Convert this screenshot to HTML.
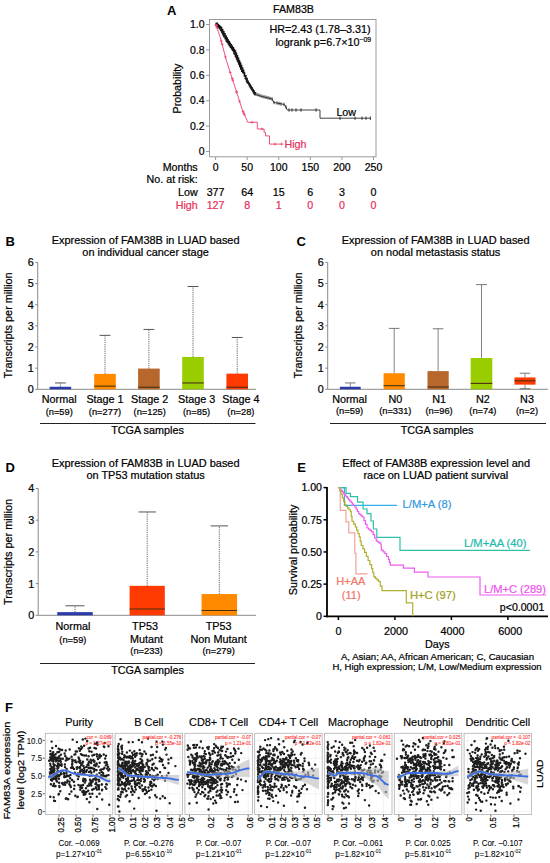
<!DOCTYPE html>
<html><head><meta charset="utf-8"><style>html,body{margin:0;padding:0;background:#fff;width:550px;height:863px;overflow:hidden}svg{display:block}text{font-family:"Liberation Sans",sans-serif}</style></head>
<body><svg width="550" height="863" viewBox="0 0 550 863">
<text x="167.00" y="14.70" font-size="13" text-anchor="start" fill="#000" font-weight="bold" >A</text>
<text x="293.50" y="13.00" font-size="10.7" text-anchor="middle" fill="#000" stroke="#000" stroke-width="0.22" >FAM83B</text>
<rect x="209.5" y="19.5" width="166.5" height="137.3" fill="none" stroke="#9a9a9a" stroke-width="1"/>
<line x1="206.00" y1="151.50" x2="209.50" y2="151.50" stroke="#9a9a9a" stroke-width="1" />
<text x="204.50" y="155.20" font-size="10.5" text-anchor="end" fill="#000" stroke="#000" stroke-width="0.22" >0</text>
<line x1="206.00" y1="126.10" x2="209.50" y2="126.10" stroke="#9a9a9a" stroke-width="1" />
<text x="204.50" y="129.80" font-size="10.5" text-anchor="end" fill="#000" stroke="#000" stroke-width="0.22" >0.2</text>
<line x1="206.00" y1="100.70" x2="209.50" y2="100.70" stroke="#9a9a9a" stroke-width="1" />
<text x="204.50" y="104.40" font-size="10.5" text-anchor="end" fill="#000" stroke="#000" stroke-width="0.22" >0.4</text>
<line x1="206.00" y1="75.30" x2="209.50" y2="75.30" stroke="#9a9a9a" stroke-width="1" />
<text x="204.50" y="79.00" font-size="10.5" text-anchor="end" fill="#000" stroke="#000" stroke-width="0.22" >0.6</text>
<line x1="206.00" y1="49.90" x2="209.50" y2="49.90" stroke="#9a9a9a" stroke-width="1" />
<text x="204.50" y="53.60" font-size="10.5" text-anchor="end" fill="#000" stroke="#000" stroke-width="0.22" >0.8</text>
<line x1="206.00" y1="24.50" x2="209.50" y2="24.50" stroke="#9a9a9a" stroke-width="1" />
<text x="204.50" y="28.20" font-size="10.5" text-anchor="end" fill="#000" stroke="#000" stroke-width="0.22" >1.0</text>
<line x1="215.60" y1="156.80" x2="215.60" y2="160.00" stroke="#9a9a9a" stroke-width="1" />
<text x="215.60" y="170.60" font-size="10.5" text-anchor="middle" fill="#000" stroke="#000" stroke-width="0.22" >0</text>
<line x1="247.18" y1="156.80" x2="247.18" y2="160.00" stroke="#9a9a9a" stroke-width="1" />
<text x="247.18" y="170.60" font-size="10.5" text-anchor="middle" fill="#000" stroke="#000" stroke-width="0.22" >50</text>
<line x1="278.76" y1="156.80" x2="278.76" y2="160.00" stroke="#9a9a9a" stroke-width="1" />
<text x="278.76" y="170.60" font-size="10.5" text-anchor="middle" fill="#000" stroke="#000" stroke-width="0.22" >100</text>
<line x1="310.34" y1="156.80" x2="310.34" y2="160.00" stroke="#9a9a9a" stroke-width="1" />
<text x="310.34" y="170.60" font-size="10.5" text-anchor="middle" fill="#000" stroke="#000" stroke-width="0.22" >150</text>
<line x1="341.92" y1="156.80" x2="341.92" y2="160.00" stroke="#9a9a9a" stroke-width="1" />
<text x="341.92" y="170.60" font-size="10.5" text-anchor="middle" fill="#000" stroke="#000" stroke-width="0.22" >200</text>
<line x1="373.50" y1="156.80" x2="373.50" y2="160.00" stroke="#9a9a9a" stroke-width="1" />
<text x="373.50" y="170.60" font-size="10.5" text-anchor="middle" fill="#000" stroke="#000" stroke-width="0.22" >250</text>
<text x="181.30" y="88.50" font-size="10.7" text-anchor="middle" fill="#000" stroke="#000" stroke-width="0.22" transform="rotate(-90 181.30 88.50)" >Probability</text>
<text x="197.70" y="170.60" font-size="10.7" text-anchor="end" fill="#000" stroke="#000" stroke-width="0.22" >Months</text>
<text x="197.70" y="183.30" font-size="10.7" text-anchor="end" fill="#000" stroke="#000" stroke-width="0.22" >No. at risk:</text>
<text x="197.70" y="196.20" font-size="10.7" text-anchor="end" fill="#000" stroke="#000" stroke-width="0.22" >Low</text>
<text x="197.70" y="209.40" font-size="10.7" text-anchor="end" fill="#e8305c" stroke="#e8305c" stroke-width="0.22" >High</text>
<text x="215.60" y="196.20" font-size="10.7" text-anchor="middle" fill="#000" stroke="#000" stroke-width="0.22" >377</text>
<text x="247.18" y="196.20" font-size="10.7" text-anchor="middle" fill="#000" stroke="#000" stroke-width="0.22" >64</text>
<text x="278.76" y="196.20" font-size="10.7" text-anchor="middle" fill="#000" stroke="#000" stroke-width="0.22" >15</text>
<text x="310.34" y="196.20" font-size="10.7" text-anchor="middle" fill="#000" stroke="#000" stroke-width="0.22" >6</text>
<text x="341.92" y="196.20" font-size="10.7" text-anchor="middle" fill="#000" stroke="#000" stroke-width="0.22" >3</text>
<text x="373.50" y="196.20" font-size="10.7" text-anchor="middle" fill="#000" stroke="#000" stroke-width="0.22" >0</text>
<text x="215.60" y="209.40" font-size="10.7" text-anchor="middle" fill="#e8305c" stroke="#e8305c" stroke-width="0.22" >127</text>
<text x="247.18" y="209.40" font-size="10.7" text-anchor="middle" fill="#e8305c" stroke="#e8305c" stroke-width="0.22" >8</text>
<text x="278.76" y="209.40" font-size="10.7" text-anchor="middle" fill="#e8305c" stroke="#e8305c" stroke-width="0.22" >1</text>
<text x="310.34" y="209.40" font-size="10.7" text-anchor="middle" fill="#e8305c" stroke="#e8305c" stroke-width="0.22" >0</text>
<text x="341.92" y="209.40" font-size="10.7" text-anchor="middle" fill="#e8305c" stroke="#e8305c" stroke-width="0.22" >0</text>
<text x="373.50" y="209.40" font-size="10.7" text-anchor="middle" fill="#e8305c" stroke="#e8305c" stroke-width="0.22" >0</text>
<text x="370.60" y="33.10" font-size="10.8" text-anchor="end" fill="#000" stroke="#000" stroke-width="0.22" >HR=2.43 (1.78–3.31)</text>
<text x="371" y="46.1" font-size="10.8" text-anchor="end" fill="#000" stroke="#000" stroke-width="0.22">logrank p=6.7×10<tspan font-size="6.8" dy="-4">−09</tspan></text>
<path d="M215.60,23.80 L216.70,23.80 L216.70,24.85 L217.80,24.85 L217.80,25.90 L218.90,25.90 L218.90,26.95 L220.00,26.95 L220.00,28.00 L221.13,28.00 L221.13,30.08 L222.27,30.08 L222.27,32.17 L223.40,32.17 L223.40,34.25 L224.53,34.25 L224.53,36.33 L225.67,36.33 L225.67,38.42 L226.80,38.42 L226.80,40.50 L227.83,40.50 L227.83,42.06 L228.86,42.06 L228.86,43.61 L229.89,43.61 L229.89,45.17 L230.91,45.17 L230.91,46.73 L231.94,46.73 L231.94,48.29 L232.97,48.29 L232.97,49.84 L234.00,49.84 L234.00,51.40 L235.02,51.40 L235.02,53.82 L236.04,53.82 L236.04,56.24 L237.07,56.24 L237.07,58.67 L238.09,58.67 L238.09,61.09 L239.11,61.09 L239.11,63.51 L240.13,63.51 L240.13,65.93 L241.16,65.93 L241.16,68.36 L242.18,68.36 L242.18,70.78 L243.20,70.78 L243.20,73.20" fill="none" stroke="#111" stroke-width="2.4" />
<path d="M243.20,73.20 L244.47,73.20 L244.47,75.93 L245.73,75.93 L245.73,78.67 L247.00,78.67 L247.00,81.40 L248.00,81.40 L248.00,83.03 L249.00,83.03 L249.00,84.65 L250.00,84.65 L250.00,86.28 L251.00,86.28 L251.00,87.90 L252.00,87.90 L252.00,89.53 L253.00,89.53 L253.00,91.15 L254.00,91.15 L254.00,92.78 L255.00,92.78 L255.00,94.40" fill="none" stroke="#111" stroke-width="1.7" />
<path d="M255.00,94.40 L262.00,96.50 L272.30,99.00 L273.60,102.40 L284.50,104.50 L287.30,110.00 L320.00,110.00 L320.00,118.20 L370.40,118.20" fill="none" stroke="#2a2a2a" stroke-width="0.9" />
<path d="M215.6,25.2h2.8M217.0,23.8v2.8M214.9,24.4h2.8M216.3,23.0v2.8M223.0,36.1h2.8M224.4,34.7v2.8M219.1,28.9h2.8M220.5,27.5v2.8M222.2,34.7h2.8M223.6,33.3v2.8M221.1,32.6h2.8M222.5,31.2v2.8M225.8,41.1h2.8M227.2,39.7v2.8M229.1,46.0h2.8M230.5,44.6v2.8M225.7,40.9h2.8M227.1,39.5v2.8M228.5,45.2h2.8M229.9,43.8v2.8M233.2,52.9h2.8M234.6,51.5v2.8M233.4,53.4h2.8M234.8,52.0v2.8M236.5,60.7h2.8M237.9,59.3v2.8M240.2,69.4h2.8M241.6,68.0v2.8M233.7,54.1h2.8M235.1,52.7v2.8M234.7,56.3h2.8M236.1,54.9v2.8M244.2,78.3h2.8M245.6,76.9v2.8M245.4,81.0h2.8M246.8,79.6v2.8M250.2,88.9h2.8M251.6,87.5v2.8M248.8,86.6h2.8M250.2,85.2v2.8M253.4,94.1h2.8M254.8,92.7v2.8M246.0,82.0h2.8M247.4,80.6v2.8M252.5,92.6h2.8M253.9,91.2v2.8" stroke="#222" stroke-width="0.9" fill="none"/>
<path d="M256.0,92.3v3.4M258.0,93.1v3.4M260.0,93.8v3.4M262.0,94.6v3.4M264.0,95.1v3.4M266.0,95.6v3.4M268.0,96.1v3.4M270.0,96.7v3.4M272.0,97.3v3.4M274.0,100.8v3.4M277.0,101.3v3.4M279.0,101.8v3.4M281.0,102.3v3.4M284.0,102.8v3.4M286.0,105.3v3.4M289.0,108.3v3.4M292.0,108.3v3.4M296.0,108.3v3.4M301.0,108.3v3.4M316.0,108.3v3.4M340.0,116.5v3.4M355.0,116.5v3.4M362.0,116.5v3.4M366.0,116.5v3.4M370.4,116.5v3.4" stroke="#222" stroke-width="0.9" fill="none"/>
<path d="M215.60,23.80 L220.00,36.50 L226.70,61.60 L236.20,90.70 L242.30,110.00 L245.60,116.90 L247.70,122.30 L257.30,122.30 L257.30,122.30 L257.30,122.30 L257.30,129.00 L262.70,129.00 L262.70,129.00 L264.10,129.00 L264.10,132.45 L265.50,132.45 L265.50,135.90 L269.50,135.90 L269.50,135.90 L269.50,135.90 L269.50,144.10 L281.80,144.10 L281.80,144.10" fill="none" stroke="#ec4a72" stroke-width="0.95" />
<path d="M215.5,27.5h2.8M216.9,26.1v2.8M214.8,25.6h2.8M216.2,24.2v2.8M214.7,25.3h2.8M216.1,23.9v2.8M220.7,44.2h2.8M222.1,42.8v2.8M224.1,57.0h2.8M225.5,55.6v2.8M219.8,41.0h2.8M221.2,39.6v2.8M230.8,78.5h2.8M232.2,77.1v2.8M231.4,80.2h2.8M232.8,78.8v2.8M228.8,72.4h2.8M230.2,71.0v2.8M238.1,101.3h2.8M239.5,99.9v2.8M235.2,91.9h2.8M236.6,90.5v2.8M235.2,91.9h2.8M236.6,90.5v2.8M241.6,111.4h2.8M243.0,110.0v2.8M243.1,114.7h2.8M244.5,113.3v2.8M242.3,113.0h2.8M243.7,111.6v2.8M250.6,122.3h2.8M252.0,120.9v2.8M260.6,129.0h2.8M262.0,127.6v2.8M273.6,144.1h2.8M275.0,142.7v2.8M280.4,144.1h2.8M281.8,142.7v2.8" stroke="#ec4a72" stroke-width="0.8" fill="none"/>
<text x="336.40" y="116.00" font-size="10.7" text-anchor="start" fill="#000" stroke="#000" stroke-width="0.22" >Low</text>
<text x="284.50" y="147.60" font-size="10.7" text-anchor="start" fill="#e8305c" stroke="#e8305c" stroke-width="0.22" >High</text>
<text x="5.60" y="246.20" font-size="13" text-anchor="start" fill="#000" font-weight="bold" >B</text>
<text x="145.60" y="244.10" font-size="10.95" text-anchor="middle" fill="#000" stroke="#000" stroke-width="0.22" >Expression of FAM38B in LUAD based</text>
<text x="145.60" y="256.40" font-size="10.95" text-anchor="middle" fill="#000" stroke="#000" stroke-width="0.22" >on individual cancer stage</text>
<text x="12.30" y="325.40" font-size="10.9" text-anchor="middle" fill="#000" stroke="#000" stroke-width="0.22" transform="rotate(-90 12.30 325.40)" >Transcripts per million</text>
<line x1="37.70" y1="389.30" x2="37.70" y2="262.40" stroke="#8a8a8a" stroke-width="1" />
<line x1="35.20" y1="389.30" x2="37.70" y2="389.30" stroke="#8a8a8a" stroke-width="1" />
<text x="33.80" y="393.20" font-size="10.8" text-anchor="end" fill="#000" stroke="#000" stroke-width="0.22" >0</text>
<line x1="35.20" y1="368.15" x2="37.70" y2="368.15" stroke="#8a8a8a" stroke-width="1" />
<text x="33.80" y="372.05" font-size="10.8" text-anchor="end" fill="#000" stroke="#000" stroke-width="0.22" >1</text>
<line x1="35.20" y1="347.00" x2="37.70" y2="347.00" stroke="#8a8a8a" stroke-width="1" />
<text x="33.80" y="350.90" font-size="10.8" text-anchor="end" fill="#000" stroke="#000" stroke-width="0.22" >2</text>
<line x1="35.20" y1="325.85" x2="37.70" y2="325.85" stroke="#8a8a8a" stroke-width="1" />
<text x="33.80" y="329.75" font-size="10.8" text-anchor="end" fill="#000" stroke="#000" stroke-width="0.22" >3</text>
<line x1="35.20" y1="304.70" x2="37.70" y2="304.70" stroke="#8a8a8a" stroke-width="1" />
<text x="33.80" y="308.60" font-size="10.8" text-anchor="end" fill="#000" stroke="#000" stroke-width="0.22" >4</text>
<line x1="35.20" y1="283.55" x2="37.70" y2="283.55" stroke="#8a8a8a" stroke-width="1" />
<text x="33.80" y="287.45" font-size="10.8" text-anchor="end" fill="#000" stroke="#000" stroke-width="0.22" >5</text>
<line x1="35.20" y1="262.40" x2="37.70" y2="262.40" stroke="#8a8a8a" stroke-width="1" />
<text x="33.80" y="266.30" font-size="10.8" text-anchor="end" fill="#000" stroke="#000" stroke-width="0.22" >6</text>
<line x1="37.70" y1="389.30" x2="256.00" y2="389.30" stroke="#8a8a8a" stroke-width="1" />
<line x1="60.40" y1="386.76" x2="60.40" y2="382.95" stroke="#555" stroke-width="0.9" stroke-dasharray="1.2,1"/>
<line x1="55.00" y1="382.95" x2="65.80" y2="382.95" stroke="#555" stroke-width="1" />
<rect x="49.60" y="386.76" width="21.60" height="2.54" fill="#2b3ba8" />
<line x1="105.00" y1="373.86" x2="105.00" y2="335.37" stroke="#555" stroke-width="0.9" stroke-dasharray="1.2,1"/>
<line x1="99.60" y1="335.37" x2="110.40" y2="335.37" stroke="#555" stroke-width="1" />
<rect x="94.20" y="373.86" width="21.60" height="15.44" fill="#ff8a00" />
<line x1="94.20" y1="386.13" x2="115.80" y2="386.13" stroke="#4a3010" stroke-width="1.1" />
<line x1="148.90" y1="368.57" x2="148.90" y2="329.45" stroke="#555" stroke-width="0.9" stroke-dasharray="1.2,1"/>
<line x1="143.50" y1="329.45" x2="154.30" y2="329.45" stroke="#555" stroke-width="1" />
<rect x="138.10" y="368.57" width="21.60" height="20.73" fill="#b7662c" />
<line x1="138.10" y1="387.19" x2="159.70" y2="387.19" stroke="#4a3010" stroke-width="1.1" />
<line x1="193.00" y1="356.94" x2="193.00" y2="286.51" stroke="#555" stroke-width="0.9" stroke-dasharray="1.2,1"/>
<line x1="187.60" y1="286.51" x2="198.40" y2="286.51" stroke="#555" stroke-width="1" />
<rect x="182.20" y="356.94" width="21.60" height="32.36" fill="#9acd00" />
<line x1="182.20" y1="382.95" x2="203.80" y2="382.95" stroke="#4a3010" stroke-width="1.1" />
<line x1="237.20" y1="373.65" x2="237.20" y2="337.48" stroke="#555" stroke-width="0.9" stroke-dasharray="1.2,1"/>
<line x1="231.80" y1="337.48" x2="242.60" y2="337.48" stroke="#555" stroke-width="1" />
<rect x="226.40" y="373.65" width="21.60" height="15.65" fill="#ff3a00" />
<line x1="226.40" y1="387.19" x2="248.00" y2="387.19" stroke="#4a3010" stroke-width="1.1" />
<text x="59.20" y="402.80" font-size="10.8" text-anchor="middle" fill="#000" stroke="#000" stroke-width="0.22" >Normal</text>
<text x="59.20" y="415.00" font-size="9.3" text-anchor="middle" fill="#000" stroke="#000" stroke-width="0.22" >(n=59)</text>
<text x="105.00" y="402.80" font-size="10.8" text-anchor="middle" fill="#000" stroke="#000" stroke-width="0.22" >Stage 1</text>
<text x="105.00" y="415.00" font-size="9.3" text-anchor="middle" fill="#000" stroke="#000" stroke-width="0.22" >(n=277)</text>
<text x="149.70" y="402.80" font-size="10.8" text-anchor="middle" fill="#000" stroke="#000" stroke-width="0.22" >Stage 2</text>
<text x="149.70" y="415.00" font-size="9.3" text-anchor="middle" fill="#000" stroke="#000" stroke-width="0.22" >(n=125)</text>
<text x="196.60" y="402.80" font-size="10.8" text-anchor="middle" fill="#000" stroke="#000" stroke-width="0.22" >Stage 3</text>
<text x="196.60" y="415.00" font-size="9.3" text-anchor="middle" fill="#000" stroke="#000" stroke-width="0.22" >(n=85)</text>
<text x="240.90" y="402.80" font-size="10.8" text-anchor="middle" fill="#000" stroke="#000" stroke-width="0.22" >Stage 4</text>
<text x="240.90" y="415.00" font-size="9.3" text-anchor="middle" fill="#000" stroke="#000" stroke-width="0.22" >(n=28)</text>
<line x1="40.00" y1="423.50" x2="255.50" y2="423.50" stroke="#222" stroke-width="1" />
<text x="147.50" y="433.50" font-size="10.8" text-anchor="middle" fill="#000" stroke="#000" stroke-width="0.22" >TCGA samples</text>
<text x="296.60" y="246.20" font-size="13" text-anchor="start" fill="#000" font-weight="bold" >C</text>
<text x="435.60" y="244.10" font-size="10.95" text-anchor="middle" fill="#000" stroke="#000" stroke-width="0.22" >Expression of FAM38B in LUAD based</text>
<text x="435.60" y="256.40" font-size="10.95" text-anchor="middle" fill="#000" stroke="#000" stroke-width="0.22" >on nodal metastasis status</text>
<text x="302.30" y="325.40" font-size="10.9" text-anchor="middle" fill="#000" stroke="#000" stroke-width="0.22" transform="rotate(-90 302.30 325.40)" >Transcripts per million</text>
<line x1="327.70" y1="389.30" x2="327.70" y2="262.40" stroke="#8a8a8a" stroke-width="1" />
<line x1="325.20" y1="389.30" x2="327.70" y2="389.30" stroke="#8a8a8a" stroke-width="1" />
<text x="323.80" y="393.20" font-size="10.8" text-anchor="end" fill="#000" stroke="#000" stroke-width="0.22" >0</text>
<line x1="325.20" y1="368.15" x2="327.70" y2="368.15" stroke="#8a8a8a" stroke-width="1" />
<text x="323.80" y="372.05" font-size="10.8" text-anchor="end" fill="#000" stroke="#000" stroke-width="0.22" >1</text>
<line x1="325.20" y1="347.00" x2="327.70" y2="347.00" stroke="#8a8a8a" stroke-width="1" />
<text x="323.80" y="350.90" font-size="10.8" text-anchor="end" fill="#000" stroke="#000" stroke-width="0.22" >2</text>
<line x1="325.20" y1="325.85" x2="327.70" y2="325.85" stroke="#8a8a8a" stroke-width="1" />
<text x="323.80" y="329.75" font-size="10.8" text-anchor="end" fill="#000" stroke="#000" stroke-width="0.22" >3</text>
<line x1="325.20" y1="304.70" x2="327.70" y2="304.70" stroke="#8a8a8a" stroke-width="1" />
<text x="323.80" y="308.60" font-size="10.8" text-anchor="end" fill="#000" stroke="#000" stroke-width="0.22" >4</text>
<line x1="325.20" y1="283.55" x2="327.70" y2="283.55" stroke="#8a8a8a" stroke-width="1" />
<text x="323.80" y="287.45" font-size="10.8" text-anchor="end" fill="#000" stroke="#000" stroke-width="0.22" >5</text>
<line x1="325.20" y1="262.40" x2="327.70" y2="262.40" stroke="#8a8a8a" stroke-width="1" />
<text x="323.80" y="266.30" font-size="10.8" text-anchor="end" fill="#000" stroke="#000" stroke-width="0.22" >6</text>
<line x1="327.70" y1="389.30" x2="548.00" y2="389.30" stroke="#8a8a8a" stroke-width="1" />
<line x1="350.30" y1="386.76" x2="350.30" y2="382.95" stroke="#767676" stroke-width="0.9" />
<line x1="345.10" y1="382.95" x2="355.50" y2="382.95" stroke="#767676" stroke-width="1" />
<rect x="339.90" y="386.76" width="20.80" height="2.54" fill="#2b3ba8" />
<line x1="394.20" y1="373.23" x2="394.20" y2="328.39" stroke="#767676" stroke-width="0.9" />
<line x1="388.90" y1="328.39" x2="399.50" y2="328.39" stroke="#767676" stroke-width="1" />
<rect x="383.60" y="373.23" width="21.20" height="16.07" fill="#ff8a00" />
<line x1="383.60" y1="385.70" x2="404.80" y2="385.70" stroke="#4a3010" stroke-width="1.1" />
<line x1="438.10" y1="371.11" x2="438.10" y2="328.81" stroke="#767676" stroke-width="0.9" />
<line x1="432.80" y1="328.81" x2="443.40" y2="328.81" stroke="#767676" stroke-width="1" />
<rect x="427.50" y="371.11" width="21.20" height="18.19" fill="#b7662c" />
<line x1="427.50" y1="386.97" x2="448.70" y2="386.97" stroke="#4a3010" stroke-width="1.1" />
<line x1="481.50" y1="358.00" x2="481.50" y2="284.61" stroke="#767676" stroke-width="0.9" />
<line x1="476.10" y1="284.61" x2="486.90" y2="284.61" stroke="#767676" stroke-width="1" />
<rect x="470.70" y="358.00" width="21.60" height="31.30" fill="#9acd00" />
<line x1="470.70" y1="383.38" x2="492.30" y2="383.38" stroke="#4a3010" stroke-width="1.1" />
<line x1="525.00" y1="377.46" x2="525.00" y2="373.23" stroke="#767676" stroke-width="0.9" />
<line x1="519.75" y1="373.23" x2="530.25" y2="373.23" stroke="#767676" stroke-width="1" />
<line x1="525.00" y1="384.65" x2="525.00" y2="388.67" stroke="#767676" stroke-width="0.9" />
<line x1="519.75" y1="388.67" x2="530.25" y2="388.67" stroke="#767676" stroke-width="1" />
<rect x="514.50" y="377.46" width="21.00" height="7.19" fill="#ff3a00" />
<line x1="514.50" y1="380.84" x2="535.50" y2="380.84" stroke="#4a3010" stroke-width="1.1" />
<text x="349.60" y="402.50" font-size="10.8" text-anchor="middle" fill="#000" stroke="#000" stroke-width="0.22" >Normal</text>
<text x="349.60" y="414.00" font-size="9.3" text-anchor="middle" fill="#000" stroke="#000" stroke-width="0.22" >(n=59)</text>
<text x="395.30" y="402.50" font-size="10.8" text-anchor="middle" fill="#000" stroke="#000" stroke-width="0.22" >N0</text>
<text x="395.30" y="414.00" font-size="9.3" text-anchor="middle" fill="#000" stroke="#000" stroke-width="0.22" >(n=331)</text>
<text x="439.10" y="402.50" font-size="10.8" text-anchor="middle" fill="#000" stroke="#000" stroke-width="0.22" >N1</text>
<text x="439.10" y="414.00" font-size="9.3" text-anchor="middle" fill="#000" stroke="#000" stroke-width="0.22" >(n=96)</text>
<text x="482.90" y="402.50" font-size="10.8" text-anchor="middle" fill="#000" stroke="#000" stroke-width="0.22" >N2</text>
<text x="482.90" y="414.00" font-size="9.3" text-anchor="middle" fill="#000" stroke="#000" stroke-width="0.22" >(n=74)</text>
<text x="527.00" y="402.50" font-size="10.8" text-anchor="middle" fill="#000" stroke="#000" stroke-width="0.22" >N3</text>
<text x="527.00" y="414.00" font-size="9.3" text-anchor="middle" fill="#000" stroke="#000" stroke-width="0.22" >(n=2)</text>
<line x1="330.00" y1="423.50" x2="546.00" y2="423.50" stroke="#222" stroke-width="1" />
<text x="437.00" y="433.50" font-size="10.8" text-anchor="middle" fill="#000" stroke="#000" stroke-width="0.22" >TCGA samples</text>
<text x="5.60" y="472.40" font-size="13" text-anchor="start" fill="#000" font-weight="bold" >D</text>
<text x="145.60" y="466.60" font-size="10.95" text-anchor="middle" fill="#000" stroke="#000" stroke-width="0.22" >Expression of FAM83B in LUAD based</text>
<text x="145.60" y="479.40" font-size="10.95" text-anchor="middle" fill="#000" stroke="#000" stroke-width="0.22" >on TP53 mutation status</text>
<text x="12.30" y="552.00" font-size="10.9" text-anchor="middle" fill="#000" stroke="#000" stroke-width="0.22" transform="rotate(-90 12.30 552.00)" >Transcripts per million</text>
<line x1="38.20" y1="615.30" x2="38.20" y2="488.50" stroke="#8a8a8a" stroke-width="1" />
<line x1="35.70" y1="615.30" x2="38.20" y2="615.30" stroke="#8a8a8a" stroke-width="1" />
<text x="34.30" y="619.20" font-size="10.8" text-anchor="end" fill="#000" stroke="#000" stroke-width="0.22" >0</text>
<line x1="35.70" y1="583.60" x2="38.20" y2="583.60" stroke="#8a8a8a" stroke-width="1" />
<text x="34.30" y="587.50" font-size="10.8" text-anchor="end" fill="#000" stroke="#000" stroke-width="0.22" >1</text>
<line x1="35.70" y1="551.90" x2="38.20" y2="551.90" stroke="#8a8a8a" stroke-width="1" />
<text x="34.30" y="555.80" font-size="10.8" text-anchor="end" fill="#000" stroke="#000" stroke-width="0.22" >2</text>
<line x1="35.70" y1="520.20" x2="38.20" y2="520.20" stroke="#8a8a8a" stroke-width="1" />
<text x="34.30" y="524.10" font-size="10.8" text-anchor="end" fill="#000" stroke="#000" stroke-width="0.22" >3</text>
<line x1="35.70" y1="488.50" x2="38.20" y2="488.50" stroke="#8a8a8a" stroke-width="1" />
<text x="34.30" y="492.40" font-size="10.8" text-anchor="end" fill="#000" stroke="#000" stroke-width="0.22" >4</text>
<line x1="38.20" y1="615.30" x2="256.00" y2="615.30" stroke="#8a8a8a" stroke-width="1" />
<line x1="75.00" y1="612.13" x2="75.00" y2="605.79" stroke="#555" stroke-width="0.9" stroke-dasharray="1.2,1"/>
<line x1="65.50" y1="605.79" x2="84.50" y2="605.79" stroke="#555" stroke-width="1" />
<rect x="57.25" y="612.13" width="35.50" height="3.17" fill="#2b3ba8" />
<line x1="147.20" y1="585.82" x2="147.20" y2="511.96" stroke="#555" stroke-width="0.9" stroke-dasharray="1.2,1"/>
<line x1="138.45" y1="511.96" x2="155.95" y2="511.96" stroke="#555" stroke-width="1" />
<rect x="129.60" y="585.82" width="35.20" height="29.48" fill="#ff3a00" />
<line x1="129.60" y1="608.96" x2="164.80" y2="608.96" stroke="#4a3010" stroke-width="1.1" />
<line x1="219.30" y1="594.06" x2="219.30" y2="525.91" stroke="#555" stroke-width="0.9" stroke-dasharray="1.2,1"/>
<line x1="210.55" y1="525.91" x2="228.05" y2="525.91" stroke="#555" stroke-width="1" />
<rect x="201.55" y="594.06" width="35.50" height="21.24" fill="#ff8a00" />
<line x1="201.55" y1="610.54" x2="237.05" y2="610.54" stroke="#4a3010" stroke-width="1.1" />
<text x="72.90" y="630.00" font-size="10.8" text-anchor="middle" fill="#000" stroke="#000" stroke-width="0.22" >Normal</text>
<text x="72.90" y="642.50" font-size="9.3" text-anchor="middle" fill="#000" stroke="#000" stroke-width="0.22" >(n=59)</text>
<text x="145.00" y="629.80" font-size="10.8" text-anchor="middle" fill="#000" stroke="#000" stroke-width="0.22" >TP53</text>
<text x="146.50" y="642.60" font-size="10.8" text-anchor="middle" fill="#000" stroke="#000" stroke-width="0.22" >Mutant</text>
<text x="146.50" y="654.30" font-size="9.3" text-anchor="middle" fill="#000" stroke="#000" stroke-width="0.22" >(n=233)</text>
<text x="218.60" y="629.80" font-size="10.8" text-anchor="middle" fill="#000" stroke="#000" stroke-width="0.22" >TP53</text>
<text x="218.60" y="642.60" font-size="10.9" text-anchor="middle" fill="#000" stroke="#000" stroke-width="0.22" >Non Mutant</text>
<text x="218.60" y="654.30" font-size="9.3" text-anchor="middle" fill="#000" stroke="#000" stroke-width="0.22" >(n=279)</text>
<line x1="40.00" y1="663.50" x2="255.00" y2="663.50" stroke="#222" stroke-width="1" />
<text x="147.50" y="674.00" font-size="10.8" text-anchor="middle" fill="#000" stroke="#000" stroke-width="0.22" >TCGA samples</text>
<text x="297.30" y="472.40" font-size="13" text-anchor="start" fill="#000" font-weight="bold" >E</text>
<text x="436.20" y="466.60" font-size="10.95" text-anchor="middle" fill="#000" stroke="#000" stroke-width="0.22" >Effect of FAM38B expression level and</text>
<text x="435.80" y="479.40" font-size="10.95" text-anchor="middle" fill="#000" stroke="#000" stroke-width="0.22" >race on LUAD patient survival</text>
<text x="297.00" y="550.00" font-size="10.8" text-anchor="middle" fill="#000" stroke="#000" stroke-width="0.22" transform="rotate(-90 297.00 550.00)" >Survival probability</text>
<line x1="327.00" y1="487.00" x2="327.00" y2="617.30" stroke="#000" stroke-width="1.8" />
<line x1="326.10" y1="616.30" x2="548.00" y2="616.30" stroke="#000" stroke-width="1.8" />
<line x1="323.50" y1="487.60" x2="327.00" y2="487.60" stroke="#000" stroke-width="1.5" />
<text x="322.00" y="491.40" font-size="10.6" text-anchor="end" fill="#000" stroke="#000" stroke-width="0.22" >1.00</text>
<line x1="323.50" y1="519.77" x2="327.00" y2="519.77" stroke="#000" stroke-width="1.5" />
<text x="322.00" y="523.57" font-size="10.6" text-anchor="end" fill="#000" stroke="#000" stroke-width="0.22" >0.75</text>
<line x1="323.50" y1="551.95" x2="327.00" y2="551.95" stroke="#000" stroke-width="1.5" />
<text x="322.00" y="555.75" font-size="10.6" text-anchor="end" fill="#000" stroke="#000" stroke-width="0.22" >0.50</text>
<line x1="323.50" y1="584.12" x2="327.00" y2="584.12" stroke="#000" stroke-width="1.5" />
<text x="322.00" y="587.92" font-size="10.6" text-anchor="end" fill="#000" stroke="#000" stroke-width="0.22" >0.25</text>
<line x1="323.50" y1="616.30" x2="327.00" y2="616.30" stroke="#000" stroke-width="1.5" />
<text x="322.00" y="620.10" font-size="10.6" text-anchor="end" fill="#000" stroke="#000" stroke-width="0.22" >0</text>
<line x1="338.40" y1="616.30" x2="338.40" y2="620.00" stroke="#000" stroke-width="1.5" />
<text x="338.60" y="635.00" font-size="10.8" text-anchor="middle" fill="#000" stroke="#000" stroke-width="0.22" >0</text>
<line x1="394.90" y1="616.30" x2="394.90" y2="620.00" stroke="#000" stroke-width="1.5" />
<text x="395.90" y="635.00" font-size="10.8" text-anchor="middle" fill="#000" stroke="#000" stroke-width="0.22" >2000</text>
<line x1="451.40" y1="616.30" x2="451.40" y2="620.00" stroke="#000" stroke-width="1.5" />
<text x="452.40" y="635.00" font-size="10.8" text-anchor="middle" fill="#000" stroke="#000" stroke-width="0.22" >4000</text>
<line x1="507.90" y1="616.30" x2="507.90" y2="620.00" stroke="#000" stroke-width="1.5" />
<text x="510.20" y="635.00" font-size="10.8" text-anchor="middle" fill="#000" stroke="#000" stroke-width="0.22" >6000</text>
<text x="437.30" y="648.20" font-size="10.8" text-anchor="middle" fill="#000" stroke="#000" stroke-width="0.22" >Days</text>
<text x="437.50" y="659.50" font-size="9.6" text-anchor="middle" fill="#000" stroke="#000" stroke-width="0.22" >A, Asian; AA, African American; C, Caucasian</text>
<text x="437.00" y="670.20" font-size="9.5" text-anchor="middle" fill="#000" stroke="#000" stroke-width="0.22" >H, High expression; L/M, Low/Medium expression</text>
<text x="544.30" y="611.20" font-size="10.6" text-anchor="end" fill="#000" stroke="#000" stroke-width="0.22" >p&lt;0.0001</text>
<path d="M338.60,487.60 L344.40,487.60 L344.40,505.40 L397.00,505.40" fill="none" stroke="#33b0ea" stroke-width="1.2" />
<path d="M338.60,487.60 L346.00,487.60 L346.00,493.30 L350.40,493.30 L350.40,496.60 L357.60,496.60 L357.60,502.10 L363.10,502.10 L363.10,509.00 L367.00,509.00 L367.00,513.70 L371.00,513.70 L371.00,521.00 L373.40,521.00 L373.40,529.00 L376.80,529.00 L376.80,537.40 L400.00,537.40 L400.00,550.30 L530.00,550.30" fill="none" stroke="#2cc0a8" stroke-width="1.2" />
<path d="M338.60,487.60 L339.85,487.60 L339.85,489.09 L341.09,489.09 L341.09,490.58 L342.34,490.58 L342.34,492.08 L343.58,492.08 L343.58,493.57 L344.83,493.57 L344.83,495.06 L346.08,495.06 L346.08,496.55 L347.32,496.55 L347.32,498.05 L348.57,498.05 L348.57,499.54 L349.82,499.54 L349.82,501.03 L351.06,501.03 L351.06,502.52 L352.31,502.52 L352.31,504.02 L353.55,504.02 L353.55,505.51 L354.80,505.51 L354.80,507.00 L356.10,507.00 L356.10,509.23 L357.40,509.23 L357.40,511.47 L358.70,511.47 L358.70,513.70 L359.97,513.70 L359.97,514.80 L361.23,514.80 L361.23,515.90 L362.50,515.90 L362.50,517.00 L364.00,517.00 L364.00,520.67 L365.50,520.67 L365.50,524.33 L367.00,524.33 L367.00,528.00 L368.53,528.00 L368.53,529.20 L370.07,529.20 L370.07,530.40 L371.60,530.40 L371.60,531.60 L373.13,531.60 L373.13,534.70 L374.67,534.70 L374.67,537.80 L376.20,537.80 L376.20,540.90 L377.77,540.90 L377.77,542.03 L379.33,542.03 L379.33,543.17 L380.90,543.17 L380.90,544.30 L381.15,544.30 L381.15,547.20 L381.40,547.20 L381.40,550.10 L383.15,550.10 L383.15,551.85 L384.90,551.85 L384.90,553.60 L386.65,553.60 L386.65,556.50 L388.40,556.50 L388.40,559.40 L389.35,559.40 L389.35,562.30 L390.30,562.30 L390.30,565.20 L403.40,565.20 L403.40,568.10 L414.40,568.10 L414.40,572.10 L428.00,572.10 L428.00,577.00 L480.00,577.00 L480.00,595.00 L546.00,595.00" fill="none" stroke="#ee5cee" stroke-width="1.2" />
<path d="M338.60,487.60 L340.30,487.60 L340.30,510.30 L346.00,510.30 L346.00,521.90 L348.80,521.90 L348.80,532.90 L354.80,532.90 L354.80,553.30 L355.90,553.30 L355.90,573.90 L367.50,573.90" fill="none" stroke="#f6a198" stroke-width="1.2" />
<path d="M338.60,487.60 L339.86,487.60 L339.86,491.04 L341.12,491.04 L341.12,494.48 L342.38,494.48 L342.38,497.92 L343.64,497.92 L343.64,501.36 L344.90,501.36 L344.90,504.80 L346.27,504.80 L346.27,506.45 L347.65,506.45 L347.65,508.10 L349.02,508.10 L349.02,509.75 L350.40,509.75 L350.40,511.40 L351.20,511.40 L351.20,516.40 L352.00,516.40 L352.00,521.40 L353.70,521.40 L353.70,524.15 L355.40,524.15 L355.40,526.90 L356.67,526.90 L356.67,530.20 L357.93,530.20 L357.93,533.50 L359.20,533.50 L359.20,536.80 L360.20,536.80 L360.20,541.15 L361.20,541.15 L361.20,545.50 L362.90,545.50 L362.90,548.95 L364.60,548.95 L364.60,552.40 L366.35,552.40 L366.35,556.45 L368.10,556.45 L368.10,560.50 L369.85,560.50 L369.85,564.60 L371.60,564.60 L371.60,568.70 L372.75,568.70 L372.75,572.75 L373.90,572.75 L373.90,576.80 L375.43,576.80 L375.43,578.33 L376.97,578.33 L376.97,579.87 L378.50,579.87 L378.50,581.40 L380.25,581.40 L380.25,586.05 L382.00,586.05 L382.00,590.70 L406.30,590.70 L406.30,602.80 L412.70,602.80 L412.70,616.30" fill="none" stroke="#b0b030" stroke-width="1.2" />
<text x="402.60" y="507.80" font-size="11.2" text-anchor="start" fill="#3399dd" stroke="#3399dd" stroke-width="0.22" >L/M+A (8)</text>
<text x="464.00" y="547.00" font-size="11.2" text-anchor="start" fill="#22bbaa" stroke="#22bbaa" stroke-width="0.22" >L/M+AA (40)</text>
<text x="484.00" y="593.40" font-size="11.1" text-anchor="start" fill="#ee55ee" stroke="#ee55ee" stroke-width="0.22" >L/M+C (289)</text>
<text x="350.80" y="585.20" font-size="11" text-anchor="middle" fill="#f0776a" stroke="#f0776a" stroke-width="0.22" >H+AA</text>
<text x="351.20" y="598.60" font-size="11" text-anchor="middle" fill="#f0776a" stroke="#f0776a" stroke-width="0.22" >(11)</text>
<text x="410.00" y="599.00" font-size="11.2" text-anchor="start" fill="#a0a020" stroke="#a0a020" stroke-width="0.22" >H+C (97)</text>
<text x="5.10" y="712.40" font-size="13" text-anchor="start" fill="#000" font-weight="bold" >F</text>
<text x="10.40" y="770.60" font-size="9.5" text-anchor="middle" fill="#000" stroke="#000" stroke-width="0.22" textLength="98.00" lengthAdjust="spacingAndGlyphs" transform="rotate(-90 10.40 770.60)" >FAM83A expression</text>
<text x="24.00" y="770.00" font-size="9.5" text-anchor="middle" fill="#000" stroke="#000" stroke-width="0.22" textLength="78.98" lengthAdjust="spacingAndGlyphs" transform="rotate(-90 24.00 770.00)" >level (log2 TPM)</text>
<text x="543.50" y="773.70" font-size="9.2" text-anchor="middle" fill="#000" stroke="#000" stroke-width="0.22" textLength="28.71" lengthAdjust="spacingAndGlyphs" transform="rotate(-90 543.50 773.70)" >LUAD</text>
<line x1="42.70" y1="740.40" x2="45.30" y2="740.40" stroke="#444" stroke-width="0.8" />
<text x="42.00" y="743.60" font-size="8.9" text-anchor="end" fill="#111" stroke="#111" stroke-width="0.12" textLength="15.24" lengthAdjust="spacingAndGlyphs" >10.0</text>
<line x1="42.70" y1="758.20" x2="45.30" y2="758.20" stroke="#444" stroke-width="0.8" />
<text x="42.00" y="761.40" font-size="8.9" text-anchor="end" fill="#111" stroke="#111" stroke-width="0.12" textLength="10.89" lengthAdjust="spacingAndGlyphs" >7.5</text>
<line x1="42.70" y1="776.00" x2="45.30" y2="776.00" stroke="#444" stroke-width="0.8" />
<text x="42.00" y="779.20" font-size="8.9" text-anchor="end" fill="#111" stroke="#111" stroke-width="0.12" textLength="10.89" lengthAdjust="spacingAndGlyphs" >5.0</text>
<line x1="42.70" y1="793.80" x2="45.30" y2="793.80" stroke="#444" stroke-width="0.8" />
<text x="42.00" y="797.00" font-size="8.9" text-anchor="end" fill="#111" stroke="#111" stroke-width="0.12" textLength="10.89" lengthAdjust="spacingAndGlyphs" >2.5</text>
<line x1="42.70" y1="811.60" x2="45.30" y2="811.60" stroke="#444" stroke-width="0.8" />
<text x="42.00" y="814.80" font-size="8.9" text-anchor="end" fill="#111" stroke="#111" stroke-width="0.12" textLength="4.36" lengthAdjust="spacingAndGlyphs" >0</text>
<rect x="45.30" y="733.30" width="67.50" height="81.30" fill="#fff" stroke="#b0b0b0" stroke-width="0.8"/>
<line x1="45.30" y1="811.60" x2="112.80" y2="811.60" stroke="#ebebeb" stroke-width="0.6" />
<line x1="45.30" y1="793.80" x2="112.80" y2="793.80" stroke="#ebebeb" stroke-width="0.6" />
<line x1="45.30" y1="776.00" x2="112.80" y2="776.00" stroke="#ebebeb" stroke-width="0.6" />
<line x1="45.30" y1="758.20" x2="112.80" y2="758.20" stroke="#ebebeb" stroke-width="0.6" />
<line x1="45.30" y1="740.40" x2="112.80" y2="740.40" stroke="#ebebeb" stroke-width="0.6" />
<line x1="59.10" y1="733.30" x2="59.10" y2="814.60" stroke="#ebebeb" stroke-width="0.6" />
<line x1="59.10" y1="814.60" x2="59.10" y2="816.80" stroke="#444" stroke-width="0.8" />
<text x="64.00" y="817.20" font-size="9.4" text-anchor="end" fill="#000" stroke="#000" stroke-width="0.28" textLength="15.18" lengthAdjust="spacingAndGlyphs" transform="rotate(-90 64.00 817.20)" >0.25</text>
<line x1="76.07" y1="733.30" x2="76.07" y2="814.60" stroke="#ebebeb" stroke-width="0.6" />
<line x1="76.07" y1="814.60" x2="76.07" y2="816.80" stroke="#444" stroke-width="0.8" />
<text x="80.97" y="817.20" font-size="9.4" text-anchor="end" fill="#000" stroke="#000" stroke-width="0.28" textLength="15.18" lengthAdjust="spacingAndGlyphs" transform="rotate(-90 80.97 817.20)" >0.50</text>
<line x1="93.04" y1="733.30" x2="93.04" y2="814.60" stroke="#ebebeb" stroke-width="0.6" />
<line x1="93.04" y1="814.60" x2="93.04" y2="816.80" stroke="#444" stroke-width="0.8" />
<text x="97.94" y="817.20" font-size="9.4" text-anchor="end" fill="#000" stroke="#000" stroke-width="0.28" textLength="15.18" lengthAdjust="spacingAndGlyphs" transform="rotate(-90 97.94 817.20)" >0.75</text>
<line x1="110.01" y1="733.30" x2="110.01" y2="814.60" stroke="#ebebeb" stroke-width="0.6" />
<line x1="110.01" y1="814.60" x2="110.01" y2="816.80" stroke="#444" stroke-width="0.8" />
<text x="114.91" y="817.20" font-size="9.4" text-anchor="end" fill="#000" stroke="#000" stroke-width="0.28" textLength="15.18" lengthAdjust="spacingAndGlyphs" transform="rotate(-90 114.91 817.20)" >1.00</text>
<text x="79.05" y="725.50" font-size="10.9" text-anchor="middle" fill="#000" stroke="#000" stroke-width="0.15" >Purity</text>
<text x="79.05" y="845.60" font-size="9.8" text-anchor="middle" fill="#000" stroke="#000" stroke-width="0.06" textLength="41.04" lengthAdjust="spacingAndGlyphs" >Cor. –0.069</text>
<text x="79.0" y="856.5" font-size="9.8" text-anchor="middle" fill="#000" stroke="#000" stroke-width="0.06" textLength="46.1" lengthAdjust="spacingAndGlyphs">p=1.27×10<tspan font-size="5.8" dy="-3.6">-01</tspan></text>
<rect x="115.10" y="733.30" width="67.50" height="81.30" fill="#fff" stroke="#b0b0b0" stroke-width="0.8"/>
<line x1="115.10" y1="811.60" x2="182.60" y2="811.60" stroke="#ebebeb" stroke-width="0.6" />
<line x1="115.10" y1="793.80" x2="182.60" y2="793.80" stroke="#ebebeb" stroke-width="0.6" />
<line x1="115.10" y1="776.00" x2="182.60" y2="776.00" stroke="#ebebeb" stroke-width="0.6" />
<line x1="115.10" y1="758.20" x2="182.60" y2="758.20" stroke="#ebebeb" stroke-width="0.6" />
<line x1="115.10" y1="740.40" x2="182.60" y2="740.40" stroke="#ebebeb" stroke-width="0.6" />
<line x1="119.00" y1="733.30" x2="119.00" y2="814.60" stroke="#ebebeb" stroke-width="0.6" />
<line x1="119.00" y1="814.60" x2="119.00" y2="816.80" stroke="#444" stroke-width="0.8" />
<text x="123.90" y="817.20" font-size="9.4" text-anchor="end" fill="#000" stroke="#000" stroke-width="0.28" textLength="4.34" lengthAdjust="spacingAndGlyphs" transform="rotate(-90 123.90 817.20)" >0</text>
<line x1="131.20" y1="733.30" x2="131.20" y2="814.60" stroke="#ebebeb" stroke-width="0.6" />
<line x1="131.20" y1="814.60" x2="131.20" y2="816.80" stroke="#444" stroke-width="0.8" />
<text x="136.10" y="817.20" font-size="9.4" text-anchor="end" fill="#000" stroke="#000" stroke-width="0.28" textLength="10.84" lengthAdjust="spacingAndGlyphs" transform="rotate(-90 136.10 817.20)" >0.1</text>
<line x1="143.40" y1="733.30" x2="143.40" y2="814.60" stroke="#ebebeb" stroke-width="0.6" />
<line x1="143.40" y1="814.60" x2="143.40" y2="816.80" stroke="#444" stroke-width="0.8" />
<text x="148.30" y="817.20" font-size="9.4" text-anchor="end" fill="#000" stroke="#000" stroke-width="0.28" textLength="10.84" lengthAdjust="spacingAndGlyphs" transform="rotate(-90 148.30 817.20)" >0.2</text>
<line x1="155.60" y1="733.30" x2="155.60" y2="814.60" stroke="#ebebeb" stroke-width="0.6" />
<line x1="155.60" y1="814.60" x2="155.60" y2="816.80" stroke="#444" stroke-width="0.8" />
<text x="160.50" y="817.20" font-size="9.4" text-anchor="end" fill="#000" stroke="#000" stroke-width="0.28" textLength="10.84" lengthAdjust="spacingAndGlyphs" transform="rotate(-90 160.50 817.20)" >0.3</text>
<line x1="167.80" y1="733.30" x2="167.80" y2="814.60" stroke="#ebebeb" stroke-width="0.6" />
<line x1="167.80" y1="814.60" x2="167.80" y2="816.80" stroke="#444" stroke-width="0.8" />
<text x="172.70" y="817.20" font-size="9.4" text-anchor="end" fill="#000" stroke="#000" stroke-width="0.28" textLength="10.84" lengthAdjust="spacingAndGlyphs" transform="rotate(-90 172.70 817.20)" >0.4</text>
<line x1="180.00" y1="733.30" x2="180.00" y2="814.60" stroke="#ebebeb" stroke-width="0.6" />
<line x1="180.00" y1="814.60" x2="180.00" y2="816.80" stroke="#444" stroke-width="0.8" />
<text x="184.90" y="817.20" font-size="9.4" text-anchor="end" fill="#000" stroke="#000" stroke-width="0.28" textLength="10.84" lengthAdjust="spacingAndGlyphs" transform="rotate(-90 184.90 817.20)" >0.5</text>
<text x="148.85" y="725.50" font-size="10.9" text-anchor="middle" fill="#000" stroke="#000" stroke-width="0.15" >B Cell</text>
<text x="148.85" y="845.60" font-size="9.8" text-anchor="middle" fill="#000" stroke="#000" stroke-width="0.06" textLength="49.72" lengthAdjust="spacingAndGlyphs" >P. Cor. –0.276</text>
<text x="148.8" y="856.5" font-size="9.8" text-anchor="middle" fill="#000" stroke="#000" stroke-width="0.06" textLength="46.1" lengthAdjust="spacingAndGlyphs">p=6.55×10<tspan font-size="5.8" dy="-3.6">-10</tspan></text>
<rect x="184.90" y="733.30" width="67.50" height="81.30" fill="#fff" stroke="#b0b0b0" stroke-width="0.8"/>
<line x1="184.90" y1="811.60" x2="252.40" y2="811.60" stroke="#ebebeb" stroke-width="0.6" />
<line x1="184.90" y1="793.80" x2="252.40" y2="793.80" stroke="#ebebeb" stroke-width="0.6" />
<line x1="184.90" y1="776.00" x2="252.40" y2="776.00" stroke="#ebebeb" stroke-width="0.6" />
<line x1="184.90" y1="758.20" x2="252.40" y2="758.20" stroke="#ebebeb" stroke-width="0.6" />
<line x1="184.90" y1="740.40" x2="252.40" y2="740.40" stroke="#ebebeb" stroke-width="0.6" />
<line x1="189.40" y1="733.30" x2="189.40" y2="814.60" stroke="#ebebeb" stroke-width="0.6" />
<line x1="189.40" y1="814.60" x2="189.40" y2="816.80" stroke="#444" stroke-width="0.8" />
<text x="194.30" y="817.20" font-size="9.4" text-anchor="end" fill="#000" stroke="#000" stroke-width="0.28" textLength="4.34" lengthAdjust="spacingAndGlyphs" transform="rotate(-90 194.30 817.20)" >0</text>
<line x1="209.00" y1="733.30" x2="209.00" y2="814.60" stroke="#ebebeb" stroke-width="0.6" />
<line x1="209.00" y1="814.60" x2="209.00" y2="816.80" stroke="#444" stroke-width="0.8" />
<text x="213.90" y="817.20" font-size="9.4" text-anchor="end" fill="#000" stroke="#000" stroke-width="0.28" textLength="10.84" lengthAdjust="spacingAndGlyphs" transform="rotate(-90 213.90 817.20)" >0.2</text>
<line x1="228.60" y1="733.30" x2="228.60" y2="814.60" stroke="#ebebeb" stroke-width="0.6" />
<line x1="228.60" y1="814.60" x2="228.60" y2="816.80" stroke="#444" stroke-width="0.8" />
<text x="233.50" y="817.20" font-size="9.4" text-anchor="end" fill="#000" stroke="#000" stroke-width="0.28" textLength="10.84" lengthAdjust="spacingAndGlyphs" transform="rotate(-90 233.50 817.20)" >0.4</text>
<line x1="248.20" y1="733.30" x2="248.20" y2="814.60" stroke="#ebebeb" stroke-width="0.6" />
<line x1="248.20" y1="814.60" x2="248.20" y2="816.80" stroke="#444" stroke-width="0.8" />
<text x="253.10" y="817.20" font-size="9.4" text-anchor="end" fill="#000" stroke="#000" stroke-width="0.28" textLength="10.84" lengthAdjust="spacingAndGlyphs" transform="rotate(-90 253.10 817.20)" >0.6</text>
<text x="218.65" y="725.50" font-size="10.9" text-anchor="middle" fill="#000" stroke="#000" stroke-width="0.15" >CD8+ T Cell</text>
<text x="218.65" y="845.60" font-size="9.8" text-anchor="middle" fill="#000" stroke="#000" stroke-width="0.06" textLength="45.31" lengthAdjust="spacingAndGlyphs" >P. Cor. –0.07</text>
<text x="218.7" y="856.5" font-size="9.8" text-anchor="middle" fill="#000" stroke="#000" stroke-width="0.06" textLength="46.1" lengthAdjust="spacingAndGlyphs">p=1.21×10<tspan font-size="5.8" dy="-3.6">-01</tspan></text>
<rect x="254.70" y="733.30" width="67.50" height="81.30" fill="#fff" stroke="#b0b0b0" stroke-width="0.8"/>
<line x1="254.70" y1="811.60" x2="322.20" y2="811.60" stroke="#ebebeb" stroke-width="0.6" />
<line x1="254.70" y1="793.80" x2="322.20" y2="793.80" stroke="#ebebeb" stroke-width="0.6" />
<line x1="254.70" y1="776.00" x2="322.20" y2="776.00" stroke="#ebebeb" stroke-width="0.6" />
<line x1="254.70" y1="758.20" x2="322.20" y2="758.20" stroke="#ebebeb" stroke-width="0.6" />
<line x1="254.70" y1="740.40" x2="322.20" y2="740.40" stroke="#ebebeb" stroke-width="0.6" />
<line x1="258.90" y1="733.30" x2="258.90" y2="814.60" stroke="#ebebeb" stroke-width="0.6" />
<line x1="258.90" y1="814.60" x2="258.90" y2="816.80" stroke="#444" stroke-width="0.8" />
<text x="263.80" y="817.20" font-size="9.4" text-anchor="end" fill="#000" stroke="#000" stroke-width="0.28" textLength="4.34" lengthAdjust="spacingAndGlyphs" transform="rotate(-90 263.80 817.20)" >0</text>
<line x1="270.20" y1="733.30" x2="270.20" y2="814.60" stroke="#ebebeb" stroke-width="0.6" />
<line x1="270.20" y1="814.60" x2="270.20" y2="816.80" stroke="#444" stroke-width="0.8" />
<text x="275.10" y="817.20" font-size="9.4" text-anchor="end" fill="#000" stroke="#000" stroke-width="0.28" textLength="10.84" lengthAdjust="spacingAndGlyphs" transform="rotate(-90 275.10 817.20)" >0.1</text>
<line x1="281.50" y1="733.30" x2="281.50" y2="814.60" stroke="#ebebeb" stroke-width="0.6" />
<line x1="281.50" y1="814.60" x2="281.50" y2="816.80" stroke="#444" stroke-width="0.8" />
<text x="286.40" y="817.20" font-size="9.4" text-anchor="end" fill="#000" stroke="#000" stroke-width="0.28" textLength="10.84" lengthAdjust="spacingAndGlyphs" transform="rotate(-90 286.40 817.20)" >0.2</text>
<line x1="292.80" y1="733.30" x2="292.80" y2="814.60" stroke="#ebebeb" stroke-width="0.6" />
<line x1="292.80" y1="814.60" x2="292.80" y2="816.80" stroke="#444" stroke-width="0.8" />
<text x="297.70" y="817.20" font-size="9.4" text-anchor="end" fill="#000" stroke="#000" stroke-width="0.28" textLength="10.84" lengthAdjust="spacingAndGlyphs" transform="rotate(-90 297.70 817.20)" >0.3</text>
<line x1="304.10" y1="733.30" x2="304.10" y2="814.60" stroke="#ebebeb" stroke-width="0.6" />
<line x1="304.10" y1="814.60" x2="304.10" y2="816.80" stroke="#444" stroke-width="0.8" />
<text x="309.00" y="817.20" font-size="9.4" text-anchor="end" fill="#000" stroke="#000" stroke-width="0.28" textLength="10.84" lengthAdjust="spacingAndGlyphs" transform="rotate(-90 309.00 817.20)" >0.4</text>
<line x1="315.40" y1="733.30" x2="315.40" y2="814.60" stroke="#ebebeb" stroke-width="0.6" />
<line x1="315.40" y1="814.60" x2="315.40" y2="816.80" stroke="#444" stroke-width="0.8" />
<text x="320.30" y="817.20" font-size="9.4" text-anchor="end" fill="#000" stroke="#000" stroke-width="0.28" textLength="10.84" lengthAdjust="spacingAndGlyphs" transform="rotate(-90 320.30 817.20)" >0.5</text>
<text x="288.45" y="725.50" font-size="10.9" text-anchor="middle" fill="#000" stroke="#000" stroke-width="0.15" >CD4+ T Cell</text>
<text x="288.45" y="845.60" font-size="9.8" text-anchor="middle" fill="#000" stroke="#000" stroke-width="0.06" textLength="45.31" lengthAdjust="spacingAndGlyphs" >P. Cor. –0.07</text>
<text x="288.4" y="856.5" font-size="9.8" text-anchor="middle" fill="#000" stroke="#000" stroke-width="0.06" textLength="46.1" lengthAdjust="spacingAndGlyphs">p=1.22×10<tspan font-size="5.8" dy="-3.6">-01</tspan></text>
<rect x="324.50" y="733.30" width="67.50" height="81.30" fill="#fff" stroke="#b0b0b0" stroke-width="0.8"/>
<line x1="324.50" y1="811.60" x2="392.00" y2="811.60" stroke="#ebebeb" stroke-width="0.6" />
<line x1="324.50" y1="793.80" x2="392.00" y2="793.80" stroke="#ebebeb" stroke-width="0.6" />
<line x1="324.50" y1="776.00" x2="392.00" y2="776.00" stroke="#ebebeb" stroke-width="0.6" />
<line x1="324.50" y1="758.20" x2="392.00" y2="758.20" stroke="#ebebeb" stroke-width="0.6" />
<line x1="324.50" y1="740.40" x2="392.00" y2="740.40" stroke="#ebebeb" stroke-width="0.6" />
<line x1="328.10" y1="733.30" x2="328.10" y2="814.60" stroke="#ebebeb" stroke-width="0.6" />
<line x1="328.10" y1="814.60" x2="328.10" y2="816.80" stroke="#444" stroke-width="0.8" />
<text x="333.00" y="817.20" font-size="9.4" text-anchor="end" fill="#000" stroke="#000" stroke-width="0.28" textLength="4.34" lengthAdjust="spacingAndGlyphs" transform="rotate(-90 333.00 817.20)" >0</text>
<line x1="341.95" y1="733.30" x2="341.95" y2="814.60" stroke="#ebebeb" stroke-width="0.6" />
<line x1="341.95" y1="814.60" x2="341.95" y2="816.80" stroke="#444" stroke-width="0.8" />
<text x="346.85" y="817.20" font-size="9.4" text-anchor="end" fill="#000" stroke="#000" stroke-width="0.28" textLength="10.84" lengthAdjust="spacingAndGlyphs" transform="rotate(-90 346.85 817.20)" >0.1</text>
<line x1="355.80" y1="733.30" x2="355.80" y2="814.60" stroke="#ebebeb" stroke-width="0.6" />
<line x1="355.80" y1="814.60" x2="355.80" y2="816.80" stroke="#444" stroke-width="0.8" />
<text x="360.70" y="817.20" font-size="9.4" text-anchor="end" fill="#000" stroke="#000" stroke-width="0.28" textLength="10.84" lengthAdjust="spacingAndGlyphs" transform="rotate(-90 360.70 817.20)" >0.2</text>
<line x1="369.65" y1="733.30" x2="369.65" y2="814.60" stroke="#ebebeb" stroke-width="0.6" />
<line x1="369.65" y1="814.60" x2="369.65" y2="816.80" stroke="#444" stroke-width="0.8" />
<text x="374.55" y="817.20" font-size="9.4" text-anchor="end" fill="#000" stroke="#000" stroke-width="0.28" textLength="10.84" lengthAdjust="spacingAndGlyphs" transform="rotate(-90 374.55 817.20)" >0.3</text>
<line x1="383.50" y1="733.30" x2="383.50" y2="814.60" stroke="#ebebeb" stroke-width="0.6" />
<line x1="383.50" y1="814.60" x2="383.50" y2="816.80" stroke="#444" stroke-width="0.8" />
<text x="388.40" y="817.20" font-size="9.4" text-anchor="end" fill="#000" stroke="#000" stroke-width="0.28" textLength="10.84" lengthAdjust="spacingAndGlyphs" transform="rotate(-90 388.40 817.20)" >0.4</text>
<text x="358.25" y="725.50" font-size="10.9" text-anchor="middle" fill="#000" stroke="#000" stroke-width="0.15" >Macrophage</text>
<text x="358.25" y="845.60" font-size="9.8" text-anchor="middle" fill="#000" stroke="#000" stroke-width="0.06" textLength="49.72" lengthAdjust="spacingAndGlyphs" >P. Cor. –0.061</text>
<text x="358.2" y="856.5" font-size="9.8" text-anchor="middle" fill="#000" stroke="#000" stroke-width="0.06" textLength="46.1" lengthAdjust="spacingAndGlyphs">p=1.82×10<tspan font-size="5.8" dy="-3.6">-01</tspan></text>
<rect x="394.30" y="733.30" width="67.50" height="81.30" fill="#fff" stroke="#b0b0b0" stroke-width="0.8"/>
<line x1="394.30" y1="811.60" x2="461.80" y2="811.60" stroke="#ebebeb" stroke-width="0.6" />
<line x1="394.30" y1="793.80" x2="461.80" y2="793.80" stroke="#ebebeb" stroke-width="0.6" />
<line x1="394.30" y1="776.00" x2="461.80" y2="776.00" stroke="#ebebeb" stroke-width="0.6" />
<line x1="394.30" y1="758.20" x2="461.80" y2="758.20" stroke="#ebebeb" stroke-width="0.6" />
<line x1="394.30" y1="740.40" x2="461.80" y2="740.40" stroke="#ebebeb" stroke-width="0.6" />
<line x1="398.90" y1="733.30" x2="398.90" y2="814.60" stroke="#ebebeb" stroke-width="0.6" />
<line x1="398.90" y1="814.60" x2="398.90" y2="816.80" stroke="#444" stroke-width="0.8" />
<text x="403.80" y="817.20" font-size="9.4" text-anchor="end" fill="#000" stroke="#000" stroke-width="0.28" textLength="4.34" lengthAdjust="spacingAndGlyphs" transform="rotate(-90 403.80 817.20)" >0</text>
<line x1="415.90" y1="733.30" x2="415.90" y2="814.60" stroke="#ebebeb" stroke-width="0.6" />
<line x1="415.90" y1="814.60" x2="415.90" y2="816.80" stroke="#444" stroke-width="0.8" />
<text x="420.80" y="817.20" font-size="9.4" text-anchor="end" fill="#000" stroke="#000" stroke-width="0.28" textLength="10.84" lengthAdjust="spacingAndGlyphs" transform="rotate(-90 420.80 817.20)" >0.1</text>
<line x1="432.90" y1="733.30" x2="432.90" y2="814.60" stroke="#ebebeb" stroke-width="0.6" />
<line x1="432.90" y1="814.60" x2="432.90" y2="816.80" stroke="#444" stroke-width="0.8" />
<text x="437.80" y="817.20" font-size="9.4" text-anchor="end" fill="#000" stroke="#000" stroke-width="0.28" textLength="10.84" lengthAdjust="spacingAndGlyphs" transform="rotate(-90 437.80 817.20)" >0.2</text>
<line x1="449.90" y1="733.30" x2="449.90" y2="814.60" stroke="#ebebeb" stroke-width="0.6" />
<line x1="449.90" y1="814.60" x2="449.90" y2="816.80" stroke="#444" stroke-width="0.8" />
<text x="454.80" y="817.20" font-size="9.4" text-anchor="end" fill="#000" stroke="#000" stroke-width="0.28" textLength="10.84" lengthAdjust="spacingAndGlyphs" transform="rotate(-90 454.80 817.20)" >0.3</text>
<text x="428.05" y="725.50" font-size="10.9" text-anchor="middle" fill="#000" stroke="#000" stroke-width="0.15" >Neutrophil</text>
<text x="428.05" y="845.60" font-size="9.8" text-anchor="middle" fill="#000" stroke="#000" stroke-width="0.06" textLength="45.31" lengthAdjust="spacingAndGlyphs" >P. Cor. 0.025</text>
<text x="428.1" y="856.5" font-size="9.8" text-anchor="middle" fill="#000" stroke="#000" stroke-width="0.06" textLength="46.1" lengthAdjust="spacingAndGlyphs">p=5.81×10<tspan font-size="5.8" dy="-3.6">-01</tspan></text>
<rect x="464.10" y="733.30" width="67.50" height="81.30" fill="#fff" stroke="#b0b0b0" stroke-width="0.8"/>
<line x1="464.10" y1="811.60" x2="531.60" y2="811.60" stroke="#ebebeb" stroke-width="0.6" />
<line x1="464.10" y1="793.80" x2="531.60" y2="793.80" stroke="#ebebeb" stroke-width="0.6" />
<line x1="464.10" y1="776.00" x2="531.60" y2="776.00" stroke="#ebebeb" stroke-width="0.6" />
<line x1="464.10" y1="758.20" x2="531.60" y2="758.20" stroke="#ebebeb" stroke-width="0.6" />
<line x1="464.10" y1="740.40" x2="531.60" y2="740.40" stroke="#ebebeb" stroke-width="0.6" />
<line x1="467.60" y1="733.30" x2="467.60" y2="814.60" stroke="#ebebeb" stroke-width="0.6" />
<line x1="467.60" y1="814.60" x2="467.60" y2="816.80" stroke="#444" stroke-width="0.8" />
<text x="472.50" y="817.20" font-size="9.4" text-anchor="end" fill="#000" stroke="#000" stroke-width="0.28" textLength="4.34" lengthAdjust="spacingAndGlyphs" transform="rotate(-90 472.50 817.20)" >0</text>
<line x1="490.80" y1="733.30" x2="490.80" y2="814.60" stroke="#ebebeb" stroke-width="0.6" />
<line x1="490.80" y1="814.60" x2="490.80" y2="816.80" stroke="#444" stroke-width="0.8" />
<text x="495.70" y="817.20" font-size="9.4" text-anchor="end" fill="#000" stroke="#000" stroke-width="0.28" textLength="10.84" lengthAdjust="spacingAndGlyphs" transform="rotate(-90 495.70 817.20)" >0.5</text>
<line x1="514.00" y1="733.30" x2="514.00" y2="814.60" stroke="#ebebeb" stroke-width="0.6" />
<line x1="514.00" y1="814.60" x2="514.00" y2="816.80" stroke="#444" stroke-width="0.8" />
<text x="518.90" y="817.20" font-size="9.4" text-anchor="end" fill="#000" stroke="#000" stroke-width="0.28" textLength="10.84" lengthAdjust="spacingAndGlyphs" transform="rotate(-90 518.90 817.20)" >1.0</text>
<text x="497.85" y="725.50" font-size="10.9" text-anchor="middle" fill="#000" stroke="#000" stroke-width="0.15" >Dendritic Cell</text>
<text x="497.85" y="845.60" font-size="9.8" text-anchor="middle" fill="#000" stroke="#000" stroke-width="0.06" textLength="49.72" lengthAdjust="spacingAndGlyphs" >P. Cor. –0.107</text>
<text x="497.9" y="856.5" font-size="9.8" text-anchor="middle" fill="#000" stroke="#000" stroke-width="0.06" textLength="46.1" lengthAdjust="spacingAndGlyphs">p=1.82×10<tspan font-size="5.8" dy="-3.6">-02</tspan></text>
<path d="M85.2 779.2h0M104.0 776.0h0M57.3 768.6h0M108.5 775.1h0M51.7 767.3h0M77.6 767.3h0M97.1 742.4h0M83.3 771.8h0M82.1 770.7h0M58.2 767.8h0M81.2 746.5h0M52.2 771.8h0M50.5 765.4h0M72.1 780.0h0M76.7 767.4h0M97.2 756.5h0M96.6 770.1h0M79.8 750.8h0M77.8 773.4h0M58.6 794.5h0M75.5 762.0h0M93.7 789.0h0M82.6 762.4h0M90.4 767.6h0M84.1 768.2h0M108.4 770.4h0M89.3 751.2h0M99.1 785.4h0M91.3 785.6h0M54.2 757.7h0M79.8 768.1h0M94.5 748.0h0M51.5 753.6h0M91.2 783.3h0M101.0 755.9h0M75.3 795.8h0M94.3 754.7h0M50.3 768.9h0M54.4 770.3h0M54.1 769.6h0M57.5 767.0h0M55.7 761.2h0M70.4 775.0h0M95.8 780.2h0M84.6 791.8h0M61.0 754.6h0M68.8 775.9h0M66.4 798.2h0M90.9 762.5h0M54.0 775.8h0M108.5 746.3h0M53.0 759.5h0M62.8 758.8h0M102.0 790.3h0M65.8 760.4h0M59.5 787.0h0M82.6 773.8h0M66.4 773.2h0M93.4 759.9h0M67.8 759.6h0M57.0 760.0h0M95.0 769.6h0M56.6 757.7h0M69.4 758.6h0M96.2 782.9h0M97.4 785.1h0M87.5 764.9h0M105.4 776.2h0M106.8 784.6h0M55.0 801.0h0M80.1 767.0h0M94.1 761.8h0M101.8 772.0h0M51.5 779.0h0M50.2 757.5h0M95.9 787.2h0M96.8 754.2h0M98.4 786.8h0M53.2 777.7h0M70.8 787.0h0M84.8 771.6h0M51.8 755.9h0M60.3 791.2h0M106.3 762.0h0M54.5 756.6h0M59.1 782.7h0M96.6 779.2h0M50.4 751.1h0M58.9 778.8h0M60.4 760.0h0M63.9 772.9h0M55.6 774.8h0M54.8 765.3h0M54.0 773.7h0M70.3 785.4h0M64.1 774.1h0M96.0 748.5h0M59.3 756.1h0M50.8 758.9h0M89.0 767.7h0M58.5 757.7h0M53.8 768.5h0M94.9 743.8h0M99.5 793.7h0M94.0 768.9h0M103.1 773.2h0M56.4 778.2h0M85.7 780.4h0M73.3 760.4h0M102.2 789.6h0M105.8 776.3h0M106.0 755.7h0M59.3 751.6h0M76.8 775.3h0M69.5 794.1h0M95.6 766.0h0M80.8 785.8h0M99.8 754.8h0M99.8 756.7h0M52.1 770.6h0M83.4 790.7h0M84.1 745.8h0M83.9 792.6h0M58.5 763.9h0M83.1 785.0h0M103.0 776.1h0M80.2 760.6h0M49.2 760.7h0M61.3 765.1h0M92.4 755.5h0M82.1 747.4h0M97.3 808.9h0M89.0 761.7h0M50.8 784.3h0M66.6 757.9h0M56.6 780.6h0M82.8 739.4h0M53.6 759.5h0M52.0 780.5h0M51.1 771.1h0M71.1 767.8h0M80.3 789.8h0M99.6 757.5h0M60.8 761.7h0M56.9 781.4h0M83.2 781.0h0M101.6 777.9h0M52.2 772.9h0M91.2 763.1h0M80.1 772.3h0M82.1 763.6h0M50.3 754.3h0M58.9 752.0h0M93.4 779.2h0M52.9 785.7h0M54.7 757.8h0M75.7 751.4h0M68.5 776.1h0M63.2 784.4h0M104.7 762.4h0M87.3 759.5h0M67.6 759.5h0M54.8 786.2h0M90.5 796.9h0M52.2 770.5h0M58.1 757.8h0M72.7 739.6h0M95.1 764.8h0M60.1 764.7h0M57.9 752.1h0M51.0 769.0h0M89.4 783.8h0M102.0 784.5h0M84.1 793.7h0M95.9 788.1h0M61.6 764.3h0M67.6 758.6h0M51.6 741.6h0M78.5 784.9h0M80.9 754.1h0M57.0 759.5h0M64.6 753.4h0M76.9 751.4h0M98.6 766.6h0M54.5 778.7h0M95.0 764.6h0M53.7 772.9h0M57.4 752.3h0M52.3 758.1h0M91.6 751.7h0M54.4 765.1h0M54.1 800.7h0M57.5 776.3h0M59.0 765.4h0M100.2 770.1h0M103.7 754.4h0M53.7 797.3h0M82.1 787.8h0M53.1 761.6h0M51.8 754.3h0M54.2 771.9h0M100.4 755.8h0M56.2 773.4h0M51.6 760.5h0M66.5 776.6h0M64.9 764.4h0M52.9 771.0h0M72.5 766.9h0M98.9 787.7h0M56.4 760.9h0M103.6 775.5h0M90.1 747.8h0M52.8 758.6h0M99.5 772.9h0M53.8 770.6h0M84.4 767.7h0M72.2 759.6h0M57.9 763.5h0M55.6 775.1h0M92.5 768.2h0M53.1 756.0h0M89.7 783.2h0M69.3 784.2h0M99.7 762.8h0M51.2 777.2h0M60.2 771.6h0M54.9 774.1h0M81.8 764.2h0M83.4 778.7h0M83.4 792.5h0M101.2 775.3h0M79.9 762.7h0M61.4 773.9h0M95.5 784.0h0M106.2 776.3h0M50.1 774.7h0M65.8 798.7h0M62.1 750.0h0M98.5 785.4h0M101.3 769.5h0M96.8 796.7h0M51.6 773.3h0M58.4 767.6h0M52.9 754.3h0M55.1 757.6h0M74.4 754.6h0M50.6 759.8h0M51.6 773.6h0M82.3 791.8h0M56.3 777.8h0M105.2 758.4h0M107.2 764.6h0M49.9 772.4h0M87.6 786.0h0M59.3 785.9h0M82.1 755.0h0M81.1 765.1h0M104.3 747.1h0M78.0 779.1h0M75.3 754.3h0M58.9 793.9h0M53.7 755.0h0M59.7 775.2h0M80.1 762.5h0M95.5 777.7h0M81.7 774.1h0M65.7 750.4h0M86.5 766.8h0M86.4 791.9h0M102.2 799.4h0M96.8 774.6h0M102.1 775.6h0M104.4 767.7h0M107.0 768.6h0M78.6 757.5h0M81.9 769.7h0M51.2 771.9h0M51.0 779.4h0M98.9 779.8h0M92.3 793.8h0M69.5 781.8h0M64.2 776.9h0M71.6 756.7h0M88.6 764.9h0M90.5 771.2h0M92.4 755.4h0M58.1 758.3h0M96.7 763.5h0M53.9 783.7h0M90.2 768.2h0M106.3 788.8h0M58.9 757.8h0M53.3 760.3h0M55.9 759.3h0M60.8 758.7h0M57.7 758.7h0M73.0 767.9h0M62.0 783.3h0M98.9 789.3h0M59.4 765.3h0M94.5 761.3h0M106.7 762.9h0M52.3 748.0h0M60.1 749.4h0M86.1 771.8h0M84.8 782.5h0M81.1 785.5h0M67.2 775.5h0M109.3 769.3h0M94.0 771.4h0M72.1 764.8h0M74.0 768.9h0M96.7 764.5h0M90.9 782.6h0M83.4 765.9h0M84.3 774.0h0M83.2 780.5h0M51.1 779.9h0M105.3 787.1h0M86.1 755.4h0M56.7 759.9h0M53.1 754.4h0M53.1 779.0h0M90.6 780.9h0M98.8 781.3h0M57.4 771.4h0M85.4 738.6h0M89.7 776.0h0M56.3 780.6h0M56.2 778.9h0M57.1 766.0h0M72.3 761.2h0M65.3 755.9h0M92.2 789.8h0M54.4 768.8h0M98.0 758.9h0M74.1 789.0h0M68.1 799.3h0M96.0 743.7h0M78.9 748.3h0M58.9 775.9h0M56.0 745.9h0M50.3 796.8h0M96.9 789.4h0M72.3 763.4h0M81.1 748.9h0M92.7 781.5h0M109.2 804.8h0M84.1 755.5h0M83.0 761.7h0M104.7 743.0h0M106.6 775.4h0M92.0 781.5h0M77.1 768.0h0M66.9 782.4h0M74.9 772.7h0M86.9 770.1h0M53.7 776.0h0M55.9 777.1h0M61.6 765.8h0M53.5 763.9h0M57.9 770.7h0M101.7 784.5h0M86.8 798.9h0M51.7 769.5h0M65.0 767.1h0M99.3 755.3h0M53.0 773.6h0M67.5 780.5h0M103.5 768.9h0M50.2 763.6h0M97.5 744.7h0M88.6 756.3h0M90.5 784.2h0M91.4 772.8h0M73.9 781.8h0M74.5 785.6h0M54.5 768.4h0M86.0 788.2h0M62.4 770.7h0M78.7 761.4h0M55.5 785.9h0M79.0 758.7h0M103.8 746.5h0M87.2 740.9h0M57.5 774.4h0M91.9 768.0h0M77.4 797.1h0M77.5 767.4h0M89.6 793.8h0M66.6 769.0h0M106.2 784.3h0M92.0 780.7h0M78.7 776.4h0M99.3 781.0h0M85.4 794.3h0M64.5 775.6h0M83.7 794.7h0M70.2 778.2h0M88.6 768.0h0M105.9 765.2h0M80.4 770.4h0M76.4 762.3h0M95.4 778.5h0M77.0 768.7h0M80.3 787.3h0M64.9 777.1h0M90.0 779.8h0M53.7 766.5h0M64.9 782.5h0M66.6 771.4h0M88.2 790.7h0M57.0 775.8h0M69.7 749.5h0M55.6 754.3h0M65.1 784.7h0M90.7 759.8h0M94.1 765.3h0M88.4 763.3h0M91.6 760.6h0M57.8 765.4h0M88.5 748.4h0M75.3 760.4h0M88.9 771.9h0M58.6 748.6h0M71.4 791.4h0M53.2 752.1h0M60.8 773.0h0M90.9 784.0h0M78.5 776.3h0M62.5 782.9h0M77.0 742.1h0M77.8 796.8h0M101.1 776.5h0M88.9 785.5h0M108.1 766.8h0M91.6 775.8h0M58.9 761.0h0M84.3 770.3h0M89.4 802.3h0M124.6 764.5h0M130.1 770.7h0M135.6 785.2h0M160.9 759.0h0M141.6 775.2h0M132.8 760.9h0M121.7 773.9h0M149.1 776.9h0M135.0 771.5h0M129.9 771.1h0M129.1 762.1h0M162.4 741.6h0M124.9 766.3h0M155.6 777.8h0M137.3 765.7h0M149.9 784.4h0M133.9 779.5h0M120.1 766.8h0M120.8 794.4h0M118.5 774.4h0M129.5 801.6h0M157.8 779.0h0M121.2 774.8h0M120.8 772.9h0M129.0 757.5h0M118.1 775.3h0M123.0 775.9h0M135.1 772.6h0M122.0 788.4h0M118.1 761.6h0M165.2 749.6h0M118.1 761.2h0M134.4 792.0h0M117.9 753.9h0M118.2 764.6h0M126.7 757.6h0M154.0 784.4h0M126.5 764.3h0M137.0 768.9h0M139.3 786.7h0M149.6 770.2h0M118.3 767.0h0M143.1 764.8h0M118.4 751.1h0M121.9 748.0h0M120.4 770.4h0M118.3 780.2h0M147.7 766.2h0M118.4 749.7h0M136.0 770.5h0M125.3 775.9h0M121.3 792.0h0M150.1 760.6h0M139.7 753.6h0M121.5 769.2h0M146.9 792.0h0M123.9 784.6h0M149.6 797.5h0M141.9 766.9h0M140.8 775.7h0M149.0 767.3h0M138.8 767.6h0M132.9 758.5h0M118.4 788.2h0M118.2 766.5h0M122.4 767.9h0M152.6 776.0h0M128.1 779.4h0M168.5 763.3h0M128.9 769.1h0M118.2 761.0h0M143.4 766.8h0M130.6 765.3h0M124.9 764.2h0M165.1 768.0h0M138.8 739.9h0M150.8 785.8h0M152.0 768.8h0M117.8 784.2h0M117.9 762.4h0M119.4 758.7h0M126.2 756.6h0M121.6 777.1h0M141.7 756.2h0M147.5 759.7h0M142.9 790.9h0M128.5 767.3h0M136.8 769.9h0M118.3 782.2h0M128.2 756.8h0M129.8 750.6h0M130.0 756.1h0M151.4 789.7h0M131.1 767.3h0M133.6 771.3h0M124.7 789.1h0M166.7 775.6h0M122.8 772.4h0M118.1 776.0h0M118.0 748.2h0M132.8 742.1h0M126.0 785.3h0M133.9 763.1h0M122.4 766.2h0M121.5 769.8h0M142.4 789.5h0M118.5 769.6h0M147.9 761.3h0M118.3 756.4h0M117.8 799.2h0M131.6 776.7h0M119.4 785.2h0M122.8 770.7h0M131.2 770.9h0M118.6 782.3h0M126.4 780.9h0M135.6 754.3h0M118.4 782.6h0M118.4 782.5h0M118.6 781.2h0M121.9 764.4h0M136.7 765.6h0M118.5 754.4h0M142.2 761.5h0M155.1 795.2h0M122.1 745.6h0M128.7 742.3h0M129.9 781.1h0M156.6 751.7h0M118.3 773.2h0M119.0 771.9h0M122.3 751.6h0M118.3 783.6h0M127.7 783.6h0M119.3 773.7h0M125.7 796.5h0M162.9 744.6h0M139.7 750.0h0M120.6 739.3h0M133.0 790.6h0M128.6 763.3h0M131.5 771.4h0M146.8 773.0h0M139.6 775.9h0M118.5 769.8h0M163.0 765.0h0M126.3 791.0h0M150.1 775.3h0M146.7 771.5h0M165.9 747.9h0M124.8 762.9h0M137.3 780.1h0M124.5 772.0h0M151.6 746.9h0M133.1 762.8h0M117.9 780.4h0M140.4 768.0h0M165.0 797.9h0M162.5 759.7h0M124.7 771.3h0M134.3 751.1h0M150.9 781.8h0M147.8 777.4h0M125.2 773.8h0M155.5 757.7h0M136.0 773.7h0M118.1 783.9h0M135.8 789.5h0M119.6 778.5h0M141.3 770.2h0M133.9 777.9h0M122.7 792.2h0M143.1 769.2h0M145.0 793.9h0M125.3 761.7h0M118.2 776.9h0M131.1 792.0h0M162.0 776.3h0M135.1 786.9h0M153.8 770.2h0M134.8 781.7h0M121.9 759.0h0M148.6 768.6h0M147.1 775.1h0M138.7 798.0h0M125.2 767.3h0M142.7 764.2h0M131.8 780.7h0M160.1 772.3h0M141.1 768.1h0M141.6 776.9h0M144.6 781.5h0M139.0 764.9h0M124.4 755.3h0M130.0 769.0h0M123.2 766.1h0M129.9 783.4h0M138.5 783.0h0M135.1 756.8h0M155.6 777.3h0M131.3 771.5h0M131.1 773.4h0M127.1 795.1h0M123.5 759.9h0M146.9 763.9h0M117.8 764.6h0M118.3 771.1h0M161.7 777.3h0M152.5 764.8h0M133.0 754.9h0M152.3 778.7h0M123.5 789.4h0M150.3 781.9h0M129.7 801.1h0M145.3 787.2h0M129.9 766.6h0M121.5 768.6h0M118.4 785.3h0M118.0 749.7h0M139.7 780.1h0M136.8 753.3h0M146.4 764.6h0M126.2 773.7h0M128.8 775.9h0M139.6 783.5h0M118.0 755.1h0M117.8 798.9h0M156.2 775.6h0M135.0 763.7h0M118.4 758.4h0M142.0 742.2h0M145.0 789.6h0M119.0 800.3h0M125.9 769.0h0M132.0 788.8h0M118.0 806.5h0M131.9 762.8h0M123.7 768.8h0M127.0 784.3h0M139.9 771.0h0M144.9 780.1h0M118.5 774.8h0M150.5 781.9h0M121.7 784.3h0M127.2 772.4h0M117.8 771.8h0M135.5 783.8h0M135.1 753.6h0M132.6 766.6h0M156.5 810.7h0M128.9 773.9h0M138.0 777.4h0M118.6 756.1h0M148.0 738.4h0M152.2 786.4h0M136.8 764.1h0M119.4 753.4h0M150.9 755.2h0M118.6 771.0h0M127.2 765.6h0M117.9 775.2h0M120.2 796.9h0M136.4 755.3h0M141.0 774.2h0M135.2 760.9h0M126.9 752.4h0M142.1 760.5h0M128.7 767.0h0M118.2 788.7h0M118.2 784.9h0M136.9 785.0h0M131.8 757.0h0M132.5 794.7h0M127.9 768.8h0M125.5 765.8h0M120.1 765.7h0M168.5 772.9h0M151.8 767.9h0M144.7 766.9h0M117.9 762.2h0M145.0 776.6h0M132.3 752.8h0M134.0 780.3h0M118.2 783.4h0M145.7 774.2h0M122.5 762.7h0M122.8 777.3h0M121.8 749.0h0M164.4 767.7h0M140.8 771.3h0M118.2 765.6h0M118.4 763.5h0M135.6 773.9h0M118.7 744.0h0M155.9 786.0h0M131.0 771.9h0M135.0 754.2h0M144.1 789.3h0M128.0 777.4h0M126.1 778.9h0M139.1 770.3h0M129.8 766.0h0M125.8 771.8h0M137.5 775.2h0M168.5 759.4h0M134.8 783.7h0M117.9 778.6h0M140.7 770.5h0M157.8 774.8h0M156.6 797.3h0M134.1 765.2h0M144.4 751.4h0M123.3 777.8h0M144.0 781.6h0M142.1 775.7h0M126.7 761.6h0M142.7 765.0h0M138.8 763.4h0M141.9 785.5h0M122.5 777.0h0M122.3 763.3h0M124.1 757.4h0M162.7 796.2h0M118.4 768.9h0M140.5 759.0h0M146.0 753.8h0M175.4 766.1h0M145.8 790.0h0M149.0 770.4h0M118.5 764.7h0M118.0 789.5h0M128.9 761.5h0M161.8 761.4h0M120.3 785.2h0M154.6 777.8h0M118.4 779.7h0M120.1 757.8h0M153.8 776.3h0M153.0 754.8h0M118.1 780.1h0M146.0 771.2h0M153.6 785.0h0M151.4 783.0h0M129.7 771.3h0M141.3 778.4h0M121.0 775.7h0M129.1 770.8h0M118.2 751.7h0M124.9 789.1h0M123.1 783.5h0M122.3 789.2h0M154.0 780.3h0M141.3 763.2h0M132.6 765.4h0M155.5 767.8h0M118.2 764.5h0M118.0 770.8h0M126.8 769.8h0M118.3 774.4h0M121.3 746.8h0M145.5 776.4h0M118.4 806.4h0M128.0 767.9h0M140.4 762.5h0M153.7 763.7h0M128.0 769.7h0M157.1 768.6h0M169.7 803.3h0M127.9 781.9h0M160.2 798.6h0M117.9 771.3h0M119.0 764.7h0M127.3 780.3h0M131.6 786.5h0M159.6 761.3h0M134.2 808.6h0M139.7 772.2h0M127.3 779.6h0M127.0 763.3h0M118.1 758.1h0M134.5 764.1h0M148.9 790.7h0M120.7 759.6h0M144.1 779.0h0M123.5 772.1h0M165.0 780.4h0M142.5 754.2h0M157.2 746.9h0M148.5 787.4h0M140.6 767.1h0M138.5 779.9h0M125.2 786.4h0M133.1 769.9h0M125.4 785.4h0M128.6 788.4h0M121.8 782.0h0M140.8 781.0h0M146.8 792.7h0M117.9 768.1h0M146.5 763.2h0M148.1 773.3h0M140.7 753.5h0M118.2 756.8h0M127.6 772.6h0M131.6 757.6h0M135.3 781.6h0M122.5 768.7h0M152.3 759.2h0M171.2 757.9h0M130.9 758.2h0M132.0 765.7h0M166.5 754.6h0M135.3 767.5h0M155.2 779.0h0M159.7 757.8h0M119.3 784.3h0M120.2 779.4h0M125.1 783.4h0M156.6 741.7h0M118.8 768.8h0M118.3 795.9h0M140.1 787.8h0M142.2 761.0h0M142.3 775.4h0M138.6 776.1h0M137.6 783.2h0M130.7 768.6h0M119.3 780.5h0M125.0 782.8h0M129.3 784.5h0M132.6 763.4h0M138.2 775.2h0M119.4 811.5h0M117.9 775.2h0M118.2 796.1h0M122.1 753.7h0M118.5 789.4h0M142.6 771.1h0M118.1 745.9h0M129.2 768.2h0M237.2 784.9h0M205.3 783.9h0M213.8 781.6h0M194.9 770.1h0M220.5 780.2h0M229.8 784.2h0M189.6 760.8h0M195.8 782.0h0M209.6 780.3h0M214.0 771.9h0M231.0 756.8h0M204.8 775.8h0M221.3 787.4h0M210.3 759.1h0M238.8 759.8h0M199.8 773.7h0M202.1 763.7h0M221.4 797.8h0M235.3 753.5h0M210.4 788.7h0M212.5 751.0h0M194.4 744.9h0M210.8 780.0h0M192.8 762.8h0M215.0 752.6h0M233.3 775.9h0M218.3 763.0h0M202.4 760.9h0M193.6 772.4h0M216.3 773.3h0M213.2 797.3h0M214.0 788.4h0M237.8 778.4h0M227.4 748.9h0M219.5 773.3h0M195.2 764.8h0M203.1 768.5h0M197.0 776.7h0M189.9 784.4h0M201.0 766.4h0M195.9 760.9h0M225.7 774.1h0M221.4 763.9h0M192.6 788.4h0M202.0 771.9h0M229.7 763.3h0M192.7 784.4h0M206.5 775.8h0M211.5 779.3h0M201.7 756.4h0M218.6 773.8h0M227.7 773.0h0M208.5 792.4h0M226.8 775.7h0M213.7 751.0h0M216.8 766.5h0M187.8 745.4h0M217.2 761.4h0M234.4 789.2h0M212.8 761.2h0M202.3 787.2h0M224.8 777.9h0M226.8 794.6h0M195.0 766.5h0M224.8 761.6h0M222.1 783.9h0M195.5 772.7h0M215.1 763.2h0M197.1 781.5h0M215.6 787.2h0M197.7 773.3h0M219.5 761.5h0M218.0 764.3h0M215.9 765.5h0M210.1 777.1h0M208.1 760.3h0M207.2 747.4h0M194.7 765.7h0M201.8 760.1h0M204.6 770.4h0M242.5 790.1h0M196.8 802.7h0M233.2 756.0h0M219.5 750.3h0M231.7 766.5h0M195.4 771.7h0M194.9 762.4h0M220.9 773.0h0M211.9 769.7h0M234.0 791.7h0M235.6 751.5h0M216.7 763.3h0M199.6 762.8h0M190.0 748.5h0M236.5 795.0h0M213.3 803.4h0M221.0 784.4h0M217.6 790.6h0M226.6 756.4h0M199.5 747.5h0M188.4 757.0h0M196.4 794.5h0M204.0 782.3h0M219.8 774.7h0M222.6 746.9h0M191.1 769.7h0M226.8 786.5h0M192.7 770.0h0M211.3 777.0h0M222.9 746.6h0M229.1 783.9h0M214.8 772.4h0M196.4 759.6h0M216.5 781.3h0M190.1 761.1h0M221.5 746.8h0M208.4 749.0h0M212.1 788.0h0M217.4 755.5h0M201.6 771.1h0M226.8 768.2h0M210.0 754.5h0M237.8 801.8h0M230.6 797.0h0M225.9 777.1h0M204.6 756.6h0M222.1 790.0h0M200.7 769.6h0M199.1 765.8h0M226.5 763.2h0M238.5 767.0h0M199.8 756.4h0M215.6 780.0h0M226.7 756.6h0M207.8 767.6h0M192.5 757.3h0M216.1 802.7h0M234.8 762.8h0M225.2 755.3h0M210.4 785.9h0M229.2 766.5h0M206.0 774.8h0M217.5 782.1h0M227.6 779.4h0M209.0 771.7h0M211.7 771.4h0M212.4 772.4h0M227.5 764.2h0M230.8 753.3h0M220.4 775.3h0M187.4 783.6h0M238.9 769.8h0M199.2 783.9h0M191.1 781.2h0M205.9 754.1h0M217.5 777.8h0M215.5 769.8h0M205.0 774.4h0M195.7 754.1h0M222.7 758.6h0M214.4 768.3h0M217.1 775.4h0M241.1 779.6h0M217.0 764.1h0M218.5 777.0h0M190.7 773.7h0M195.8 769.8h0M202.3 787.0h0M220.1 768.5h0M193.6 772.1h0M199.0 785.9h0M205.1 789.2h0M192.3 755.7h0M195.9 747.5h0M211.6 764.2h0M212.6 753.7h0M216.5 792.1h0M228.3 776.7h0M191.4 780.4h0M191.3 754.7h0M190.1 763.4h0M210.3 771.3h0M201.7 783.2h0M212.1 785.3h0M223.3 764.0h0M235.1 802.0h0M202.5 760.7h0M196.5 779.6h0M194.7 775.7h0M218.9 775.9h0M214.2 783.3h0M217.4 785.2h0M232.3 759.7h0M194.4 765.1h0M217.8 773.5h0M221.8 769.2h0M194.9 772.6h0M218.3 770.5h0M210.7 768.2h0M188.9 780.3h0M228.6 771.5h0M208.0 782.4h0M203.4 792.6h0M203.0 773.4h0M218.2 752.4h0M213.0 778.3h0M206.2 762.7h0M195.4 760.4h0M215.9 782.8h0M187.5 774.9h0M192.3 787.8h0M215.0 800.6h0M198.1 781.3h0M202.0 779.5h0M234.8 749.9h0M203.7 762.8h0M189.9 762.0h0M195.5 783.5h0M187.8 776.8h0M187.7 774.6h0M206.0 775.1h0M204.7 758.7h0M204.0 771.1h0M192.4 761.3h0M221.9 765.6h0M208.5 796.3h0M221.6 792.2h0M200.6 794.1h0M189.4 803.4h0M220.8 774.6h0M195.5 796.7h0M212.9 789.1h0M206.4 781.4h0M215.3 770.0h0M200.9 781.5h0M225.7 762.2h0M209.3 765.7h0M210.6 798.9h0M210.0 769.7h0M212.3 782.4h0M194.4 784.9h0M199.5 770.8h0M192.8 776.9h0M197.0 753.2h0M198.5 776.4h0M235.7 769.9h0M189.9 764.6h0M210.7 766.9h0M221.6 773.1h0M217.7 767.8h0M209.6 762.9h0M198.8 790.0h0M191.7 783.6h0M199.1 768.8h0M217.9 760.0h0M211.5 788.2h0M227.6 757.7h0M221.1 748.2h0M211.3 769.1h0M238.5 748.6h0M196.9 777.6h0M194.1 777.8h0M207.9 798.8h0M220.5 754.7h0M227.9 777.1h0M219.7 779.8h0M227.4 785.2h0M219.6 779.5h0M213.0 772.9h0M203.3 766.0h0M196.8 773.6h0M214.9 765.3h0M220.3 758.4h0M205.2 762.7h0M195.8 772.4h0M224.6 771.7h0M207.3 798.6h0M188.9 747.6h0M205.8 763.5h0M231.8 776.9h0M210.7 788.5h0M203.2 759.8h0M209.3 774.1h0M205.1 772.5h0M223.7 769.6h0M229.2 768.7h0M197.0 774.3h0M214.3 779.4h0M217.6 770.2h0M220.8 765.3h0M212.9 772.2h0M204.2 779.0h0M193.9 764.2h0M203.2 784.7h0M207.5 773.6h0M220.8 756.9h0M224.2 764.0h0M202.0 763.2h0M224.7 761.1h0M208.6 809.4h0M228.5 777.0h0M233.0 769.5h0M198.4 779.5h0M194.7 758.2h0M188.5 774.7h0M198.2 792.4h0M197.7 768.9h0M193.0 773.6h0M193.7 789.4h0M206.5 769.8h0M209.1 753.3h0M210.4 782.6h0M209.9 791.1h0M201.8 784.0h0M209.7 787.6h0M201.8 778.4h0M216.6 795.4h0M216.1 761.7h0M214.1 744.1h0M197.2 781.3h0M201.6 758.1h0M216.5 765.9h0M189.5 788.0h0M202.2 781.9h0M218.3 755.2h0M209.8 780.2h0M226.0 751.6h0M245.8 781.3h0M194.8 766.7h0M193.7 758.9h0M214.1 748.2h0M220.8 778.7h0M195.7 776.8h0M202.7 748.3h0M230.4 769.0h0M216.6 775.4h0M220.3 798.1h0M210.5 791.1h0M227.6 771.8h0M220.4 790.3h0M216.5 747.0h0M197.1 755.4h0M206.5 782.9h0M236.1 774.1h0M241.2 753.1h0M190.9 782.4h0M219.7 794.3h0M201.3 782.4h0M187.3 774.4h0M199.9 773.7h0M228.0 792.0h0M227.8 764.4h0M194.3 782.2h0M209.6 760.2h0M233.6 767.4h0M201.2 773.5h0M212.3 783.0h0M192.5 772.3h0M207.8 780.3h0M222.7 761.5h0M208.7 746.9h0M213.2 771.2h0M200.4 784.7h0M200.8 779.8h0M207.8 784.4h0M222.1 750.9h0M216.5 764.3h0M218.6 795.6h0M211.7 780.0h0M200.6 764.6h0M196.7 770.1h0M210.3 755.1h0M198.1 765.6h0M208.2 786.4h0M201.5 774.9h0M202.0 775.3h0M218.3 762.8h0M208.3 776.2h0M220.6 795.7h0M217.8 774.8h0M224.5 780.5h0M206.0 761.7h0M204.5 753.6h0M203.0 777.9h0M193.2 745.1h0M198.1 781.1h0M203.5 756.3h0M196.8 755.9h0M204.4 782.0h0M194.4 768.7h0M212.3 779.5h0M206.7 760.5h0M190.1 782.2h0M207.7 771.8h0M200.8 774.0h0M200.9 741.4h0M209.9 757.8h0M205.3 794.9h0M204.5 796.3h0M188.5 747.9h0M204.8 751.2h0M197.0 744.9h0M228.8 757.3h0M221.8 750.9h0M214.6 772.9h0M237.6 778.9h0M210.4 786.9h0M203.3 766.9h0M215.8 745.8h0M195.2 769.0h0M191.8 781.0h0M197.8 757.4h0M202.1 792.0h0M199.1 782.0h0M193.9 747.7h0M226.1 770.0h0M209.6 764.5h0M203.0 780.8h0M197.0 788.0h0M204.3 767.3h0M187.6 749.8h0M193.0 776.2h0M226.2 790.3h0M194.5 792.1h0M201.1 763.9h0M191.2 780.2h0M228.0 779.3h0M193.4 790.1h0M194.5 780.7h0M212.2 762.1h0M218.0 748.0h0M196.3 758.2h0M209.2 753.0h0M225.8 771.4h0M234.0 748.4h0M199.5 771.8h0M204.8 773.3h0M213.4 780.9h0M230.1 772.4h0M226.6 783.2h0M290.9 777.4h0M261.1 806.0h0M268.3 792.4h0M284.4 767.5h0M307.4 743.2h0M285.2 772.0h0M259.5 771.1h0M300.9 754.1h0M280.0 791.1h0M267.0 776.3h0M294.0 742.1h0M265.4 790.8h0M291.2 761.0h0M305.4 774.8h0M266.4 750.7h0M291.0 771.2h0M308.4 775.3h0M303.8 769.7h0M283.4 741.2h0M287.3 750.8h0M268.5 773.0h0M258.1 800.4h0M263.7 764.6h0M285.6 759.0h0M272.4 766.6h0M280.7 764.3h0M260.7 781.0h0M265.7 757.6h0M260.3 779.9h0M265.7 764.9h0M262.4 771.3h0M269.6 762.2h0M273.3 801.1h0M273.6 754.9h0M315.2 764.6h0M260.2 765.0h0M264.8 785.4h0M264.7 774.1h0M288.8 769.3h0M284.2 770.3h0M313.5 770.4h0M283.8 779.2h0M269.0 761.0h0M271.3 760.5h0M283.2 759.0h0M284.3 777.1h0M277.6 768.2h0M286.2 777.1h0M291.6 771.8h0M282.2 751.9h0M279.8 762.0h0M296.1 787.3h0M303.2 771.6h0M298.9 793.9h0M258.3 771.6h0M297.6 760.1h0M267.8 773.5h0M266.7 776.2h0M273.1 772.3h0M257.9 787.9h0M268.1 772.6h0M275.3 767.1h0M266.7 758.8h0M281.4 775.1h0M258.1 767.1h0M275.5 769.8h0M263.7 773.9h0M267.6 774.2h0M288.9 773.2h0M265.6 776.3h0M291.1 767.7h0M269.4 750.4h0M258.3 758.9h0M271.1 765.0h0M278.1 802.5h0M300.3 765.2h0M286.4 786.9h0M268.2 775.9h0M300.7 792.9h0M292.7 774.6h0M259.9 775.9h0M260.0 778.9h0M283.3 767.2h0M294.8 777.3h0M265.9 763.7h0M284.7 766.7h0M268.6 766.8h0M275.4 761.6h0M294.8 740.6h0M283.7 790.0h0M281.6 784.6h0M273.8 787.3h0M276.5 748.9h0M282.1 761.2h0M280.0 752.4h0M288.3 767.4h0M271.3 776.5h0M258.4 757.6h0M257.9 751.8h0M258.0 788.0h0M260.1 749.4h0M308.9 763.2h0M290.5 770.3h0M265.9 764.9h0M283.6 788.1h0M289.2 764.2h0M267.8 787.0h0M265.1 740.1h0M266.1 769.5h0M278.4 739.3h0M258.2 757.0h0M263.5 785.4h0M273.3 773.3h0M289.4 756.6h0M265.6 771.6h0M273.5 749.2h0M271.9 786.6h0M266.6 766.1h0M269.5 767.7h0M259.0 769.0h0M268.4 772.4h0M284.3 775.6h0M274.6 754.7h0M265.1 784.2h0M299.1 790.7h0M291.5 754.3h0M296.1 780.0h0M284.7 779.5h0M282.0 785.6h0M288.4 755.1h0M259.3 768.9h0M266.9 760.8h0M291.1 795.4h0M286.3 757.6h0M277.2 770.5h0M300.9 778.2h0M274.6 783.7h0M258.1 765.0h0M273.9 760.4h0M257.9 792.0h0M280.3 767.3h0M273.8 768.5h0M297.4 765.1h0M269.4 773.2h0M271.5 795.7h0M276.9 771.0h0M274.5 768.6h0M269.9 769.9h0M299.0 764.8h0M260.2 772.1h0M264.0 771.4h0M265.2 777.2h0M284.0 753.9h0M271.0 781.3h0M258.1 786.4h0M289.9 762.5h0M262.2 774.3h0M300.6 742.0h0M258.5 765.8h0M285.0 763.9h0M258.0 787.2h0M259.2 751.8h0M275.1 771.4h0M265.1 774.0h0M268.1 789.4h0M295.9 779.0h0M273.3 755.0h0M288.7 771.4h0M267.9 756.6h0M270.4 789.5h0M274.5 755.3h0M265.4 765.1h0M289.1 774.8h0M269.5 781.9h0M266.8 775.6h0M263.9 777.0h0M279.0 768.3h0M275.0 762.9h0M280.8 754.5h0M265.1 786.4h0M270.5 787.7h0M268.5 780.1h0M266.3 768.2h0M282.7 766.3h0M269.6 767.5h0M308.6 762.6h0M292.7 751.5h0M282.0 773.6h0M258.0 790.0h0M296.9 760.8h0M288.7 766.0h0M269.0 795.1h0M263.6 748.5h0M265.2 786.8h0M276.3 786.4h0M299.0 779.3h0M280.3 759.5h0M258.9 779.6h0M267.6 780.3h0M270.9 768.8h0M267.6 769.4h0M290.0 777.1h0M269.0 764.1h0M269.3 756.3h0M286.9 772.9h0M288.2 761.7h0M281.9 768.6h0M267.2 745.2h0M291.4 764.8h0M305.0 807.7h0M291.4 768.1h0M268.6 773.6h0M268.1 798.6h0M277.5 772.2h0M298.8 795.4h0M269.6 798.8h0M275.7 772.8h0M266.2 753.1h0M257.8 760.7h0M275.1 747.2h0M297.4 801.6h0M259.0 752.2h0M288.9 784.9h0M278.0 756.8h0M258.4 791.9h0M265.6 778.8h0M296.2 774.7h0M268.4 764.1h0M278.6 771.5h0M260.3 759.8h0M298.1 766.8h0M257.9 767.7h0M272.6 797.3h0M276.1 795.8h0M258.4 761.6h0M272.0 773.9h0M267.3 773.0h0M302.9 763.6h0M303.1 768.9h0M258.2 776.6h0M268.5 752.9h0M263.7 757.3h0M261.9 766.8h0M288.4 771.9h0M275.8 766.8h0M299.1 796.3h0M292.1 754.9h0M284.7 774.5h0M265.6 760.0h0M258.3 756.2h0M288.1 760.2h0M273.4 758.9h0M268.9 768.0h0M301.8 777.0h0M272.3 790.3h0M286.7 763.0h0M295.9 758.2h0M292.2 792.6h0M260.0 784.0h0M302.7 766.2h0M270.1 773.1h0M311.9 768.7h0M301.6 753.0h0M278.3 776.5h0M297.8 766.8h0M265.4 757.9h0M257.9 769.6h0M283.6 767.1h0M281.3 763.2h0M283.6 761.4h0M270.0 745.1h0M274.2 770.0h0M307.6 742.4h0M275.4 762.2h0M291.4 749.5h0M292.1 773.8h0M258.1 792.0h0M284.3 747.3h0M270.4 763.5h0M264.4 781.8h0M284.4 762.2h0M283.0 778.6h0M286.5 758.1h0M289.5 755.6h0M260.1 777.5h0M260.2 779.8h0M284.5 759.7h0M267.5 790.7h0M277.1 750.2h0M269.5 793.2h0M282.5 752.6h0M290.0 758.0h0M261.1 772.0h0M257.9 763.1h0M266.0 768.9h0M281.9 762.3h0M257.9 780.7h0M258.0 793.9h0M261.5 760.9h0M258.1 774.2h0M300.8 778.9h0M305.0 784.8h0M260.6 762.4h0M258.4 781.0h0M258.7 765.2h0M262.0 760.4h0M276.8 760.7h0M294.3 762.8h0M262.1 758.4h0M274.6 786.1h0M265.9 761.0h0M298.1 761.6h0M291.6 752.9h0M289.4 780.4h0M297.3 796.6h0M266.0 756.1h0M268.3 739.1h0M268.5 755.7h0M273.8 762.9h0M275.0 776.9h0M288.7 773.5h0M284.7 763.2h0M285.0 767.1h0M273.0 759.7h0M277.7 757.7h0M267.0 807.1h0M288.2 780.7h0M282.9 767.0h0M274.6 772.3h0M301.7 788.7h0M276.6 772.6h0M280.0 776.3h0M262.7 772.0h0M278.7 789.2h0M303.0 786.2h0M307.0 789.2h0M308.1 772.7h0M269.1 779.0h0M287.9 765.3h0M274.5 767.7h0M277.3 773.3h0M290.7 756.3h0M273.7 759.3h0M271.5 775.6h0M263.0 758.5h0M286.2 759.3h0M298.2 760.1h0M293.9 760.7h0M276.1 775.3h0M258.5 757.0h0M263.4 785.3h0M294.2 786.3h0M303.6 777.3h0M260.9 784.9h0M271.7 794.6h0M259.6 768.8h0M283.9 805.7h0M286.8 792.3h0M295.7 767.2h0M282.2 764.2h0M278.5 768.8h0M297.0 779.8h0M278.3 780.3h0M262.0 749.8h0M258.1 779.5h0M258.4 772.3h0M279.9 777.3h0M266.9 770.9h0M284.2 764.5h0M282.4 778.2h0M258.0 782.1h0M268.5 754.6h0M265.4 768.8h0M281.0 787.2h0M271.8 765.4h0M299.1 769.0h0M267.3 760.9h0M271.4 778.7h0M292.3 791.0h0M276.7 771.8h0M288.1 766.6h0M300.8 754.5h0M266.3 793.4h0M289.2 760.6h0M282.2 779.8h0M309.1 765.0h0M258.2 777.8h0M294.5 765.4h0M304.5 758.4h0M258.4 797.1h0M313.1 775.6h0M265.1 769.5h0M271.4 765.1h0M270.1 785.1h0M275.9 779.0h0M265.7 767.2h0M265.3 749.7h0M259.8 781.7h0M271.1 738.1h0M278.0 774.3h0M258.2 764.5h0M286.3 765.1h0M266.0 762.5h0M264.3 774.5h0M271.0 772.7h0M260.3 746.8h0M280.5 769.2h0M268.7 781.0h0M290.8 762.5h0M262.9 767.9h0M262.8 787.4h0M263.7 775.8h0M265.2 759.1h0M277.2 779.0h0M280.6 760.1h0M304.6 761.1h0M268.4 753.8h0M279.1 744.3h0M285.6 786.1h0M272.3 757.9h0M263.0 790.8h0M296.1 787.8h0M270.8 753.7h0M273.4 750.9h0M259.7 754.9h0M294.5 754.6h0M280.4 769.9h0M292.3 778.1h0M292.9 765.1h0M258.6 776.7h0M281.1 774.7h0M287.5 778.7h0M272.4 764.1h0M258.3 787.2h0M284.0 779.6h0M275.4 779.3h0M294.7 776.6h0M302.6 744.4h0M273.8 749.4h0M266.7 767.3h0M358.2 796.0h0M352.6 756.1h0M345.4 786.0h0M348.4 757.2h0M367.4 774.4h0M373.6 747.7h0M375.7 790.9h0M364.9 800.1h0M357.8 790.9h0M379.4 775.7h0M351.7 773.3h0M342.2 770.5h0M335.1 792.3h0M351.3 773.2h0M345.9 784.6h0M360.8 765.1h0M328.0 802.9h0M330.6 754.9h0M364.1 776.4h0M346.0 763.6h0M328.0 771.9h0M328.1 785.8h0M361.7 770.4h0M327.7 796.7h0M358.8 789.5h0M370.2 774.4h0M328.1 767.0h0M355.1 779.9h0M342.8 754.3h0M333.5 785.9h0M338.9 768.6h0M370.8 764.6h0M370.9 752.7h0M327.6 776.0h0M336.1 767.5h0M331.4 772.5h0M340.9 783.1h0M335.4 763.0h0M347.7 750.1h0M361.8 777.1h0M370.1 787.5h0M336.6 789.6h0M371.7 753.9h0M329.7 761.1h0M329.5 769.4h0M371.1 786.4h0M336.4 764.9h0M327.7 752.7h0M358.1 779.9h0M354.0 750.4h0M327.7 758.3h0M330.7 771.7h0M331.5 785.2h0M369.1 805.5h0M369.8 756.6h0M328.0 767.4h0M341.8 767.1h0M327.7 742.1h0M331.4 799.4h0M328.0 749.3h0M328.3 744.2h0M340.5 783.9h0M341.9 782.4h0M360.2 782.0h0M349.7 784.0h0M342.4 802.6h0M328.2 792.9h0M342.6 763.4h0M378.3 771.8h0M327.9 756.2h0M353.9 753.9h0M335.7 766.6h0M366.5 784.0h0M361.1 779.0h0M372.5 785.9h0M355.6 777.7h0M363.8 758.7h0M346.0 789.8h0M369.1 767.9h0M345.9 784.2h0M354.0 759.0h0M358.9 761.2h0M335.2 784.6h0M327.7 755.5h0M341.3 770.3h0M347.7 758.0h0M328.0 745.8h0M347.1 762.8h0M335.4 759.5h0M333.5 772.9h0M338.7 751.4h0M344.4 797.3h0M340.0 785.4h0M328.1 800.3h0M329.4 773.9h0M358.7 777.5h0M345.6 784.8h0M337.7 758.7h0M328.0 779.5h0M327.7 768.3h0M335.6 741.2h0M381.4 776.6h0M343.2 775.2h0M336.8 764.2h0M342.8 786.2h0M371.1 777.0h0M381.1 776.8h0M351.8 779.3h0M340.2 774.5h0M331.0 759.6h0M348.7 779.2h0M371.8 777.8h0M344.4 750.0h0M344.3 747.6h0M333.7 775.8h0M328.1 801.0h0M362.3 748.0h0M331.8 783.8h0M337.0 770.0h0M379.8 764.6h0M370.0 767.6h0M346.1 773.0h0M362.1 761.7h0M342.9 786.9h0M337.3 779.7h0M336.5 759.4h0M343.4 803.6h0M350.4 787.1h0M330.6 777.9h0M354.7 774.3h0M327.9 787.9h0M381.2 767.2h0M350.9 768.8h0M331.2 771.2h0M337.7 784.4h0M330.1 774.8h0M329.2 781.3h0M329.5 767.7h0M351.7 765.5h0M384.7 783.6h0M358.5 769.1h0M327.8 756.6h0M357.0 760.7h0M344.0 808.3h0M366.8 783.8h0M344.3 791.5h0M346.2 766.3h0M342.1 783.2h0M364.2 757.8h0M334.3 777.9h0M340.3 773.2h0M385.8 791.9h0M365.7 763.8h0M371.4 773.0h0M334.0 761.7h0M340.4 775.4h0M328.0 754.2h0M329.2 777.9h0M339.2 779.5h0M373.8 780.6h0M330.7 762.6h0M348.0 779.6h0M328.7 777.6h0M327.7 779.0h0M333.5 806.4h0M335.1 751.4h0M334.4 763.3h0M358.7 793.2h0M374.6 750.9h0M340.8 788.0h0M333.2 797.7h0M341.1 771.5h0M358.0 765.4h0M375.1 770.4h0M350.6 753.3h0M364.2 760.6h0M336.6 786.8h0M338.0 772.0h0M328.0 783.9h0M347.7 770.5h0M339.4 768.7h0M336.5 755.8h0M345.4 776.7h0M328.3 777.0h0M328.2 769.8h0M355.4 777.0h0M362.1 790.1h0M367.3 771.7h0M347.6 777.9h0M359.8 775.0h0M330.8 769.0h0M333.8 763.5h0M355.1 740.1h0M372.8 781.7h0M355.5 785.8h0M339.7 742.1h0M328.3 775.6h0M349.4 764.5h0M346.7 783.5h0M381.0 761.1h0M349.0 803.5h0M342.0 766.0h0M330.2 756.3h0M370.6 770.9h0M340.9 757.1h0M363.8 777.0h0M350.3 783.7h0M337.9 780.6h0M381.9 772.8h0M344.9 780.8h0M329.6 774.1h0M330.6 772.7h0M347.5 754.3h0M349.6 763.9h0M375.0 772.4h0M350.4 772.8h0M338.9 751.8h0M348.6 767.4h0M328.2 787.1h0M372.1 773.6h0M335.3 767.1h0M335.0 781.9h0M343.8 773.3h0M380.8 765.7h0M345.9 770.1h0M353.9 767.9h0M342.4 788.5h0M335.2 787.1h0M345.3 768.2h0M366.7 784.2h0M339.2 766.4h0M345.3 779.7h0M345.8 773.8h0M366.6 786.0h0M364.1 749.7h0M370.8 778.6h0M337.3 771.9h0M384.5 754.6h0M339.2 772.1h0M362.8 777.7h0M370.9 774.5h0M359.0 769.3h0M327.8 758.6h0M346.5 770.6h0M327.7 759.7h0M347.2 759.9h0M338.4 769.0h0M336.8 774.0h0M328.2 794.0h0M342.2 769.5h0M346.4 772.6h0M328.1 753.1h0M329.2 769.5h0M375.7 767.0h0M338.7 789.9h0M346.0 778.4h0M363.9 774.9h0M334.3 788.9h0M333.8 746.5h0M328.2 780.6h0M329.0 782.3h0M332.8 793.4h0M359.5 768.4h0M338.3 781.3h0M356.4 766.6h0M362.7 770.8h0M348.3 796.5h0M341.8 783.1h0M367.1 747.8h0M328.1 753.9h0M345.5 779.1h0M328.1 781.2h0M339.0 747.8h0M336.1 767.4h0M353.0 784.7h0M362.3 785.8h0M336.4 760.6h0M335.9 767.6h0M369.6 761.3h0M352.2 742.8h0M327.6 761.2h0M363.0 780.1h0M345.3 790.5h0M345.2 784.9h0M351.9 757.7h0M378.0 771.3h0M355.1 752.5h0M347.2 796.1h0M354.5 768.4h0M328.0 757.1h0M337.2 779.9h0M359.2 779.6h0M328.8 771.8h0M341.7 761.9h0M350.4 786.8h0M341.0 765.0h0M343.9 782.3h0M331.1 777.8h0M342.7 752.9h0M332.1 799.2h0M357.1 752.9h0M334.4 765.0h0M330.7 778.6h0M342.6 767.7h0M369.9 745.5h0M350.3 766.6h0M331.6 772.0h0M342.3 796.2h0M344.2 776.3h0M354.9 771.4h0M340.2 776.4h0M342.0 794.7h0M346.0 807.6h0M353.4 762.0h0M332.8 806.1h0M347.8 776.6h0M366.3 762.8h0M354.0 751.4h0M333.9 776.7h0M352.0 766.3h0M333.0 793.3h0M342.5 781.5h0M353.1 779.5h0M338.9 794.2h0M330.5 762.1h0M328.0 757.6h0M343.0 773.0h0M355.2 757.1h0M338.7 781.1h0M327.6 781.6h0M371.7 780.5h0M336.6 784.7h0M353.0 772.9h0M353.4 758.0h0M369.0 785.1h0M348.7 782.5h0M351.5 765.6h0M381.4 760.3h0M330.8 762.8h0M350.2 742.7h0M368.6 770.0h0M372.9 763.7h0M332.6 809.1h0M349.6 753.0h0M331.0 786.4h0M346.6 781.0h0M340.2 791.4h0M327.7 786.9h0M345.7 794.4h0M342.4 769.2h0M343.5 755.4h0M327.8 767.5h0M380.5 769.8h0M348.9 797.3h0M360.3 767.7h0M328.3 773.8h0M328.1 767.4h0M375.2 756.9h0M340.4 774.0h0M362.0 784.6h0M353.7 746.3h0M377.8 780.5h0M347.4 769.4h0M354.6 781.2h0M327.6 775.8h0M353.8 765.9h0M364.9 752.0h0M327.6 778.8h0M374.1 760.6h0M350.7 759.8h0M340.9 771.2h0M345.4 769.9h0M343.4 755.0h0M327.9 778.5h0M366.0 763.1h0M344.2 791.3h0M333.1 771.1h0M383.0 771.9h0M355.0 751.9h0M342.1 744.7h0M347.5 770.5h0M339.2 789.2h0M337.9 752.8h0M341.5 763.6h0M347.0 768.7h0M334.8 763.1h0M345.4 748.6h0M374.0 760.3h0M343.9 778.1h0M334.1 768.8h0M365.0 756.2h0M327.6 747.4h0M355.3 778.1h0M364.3 769.7h0M359.6 759.9h0M335.5 790.5h0M339.5 768.8h0M371.0 761.2h0M358.6 774.1h0M336.1 767.6h0M348.1 791.5h0M347.6 764.8h0M359.0 766.1h0M330.9 779.9h0M334.7 765.3h0M336.0 782.0h0M352.5 765.9h0M380.0 764.7h0M337.4 772.4h0M344.9 784.0h0M339.1 785.8h0M328.6 769.4h0M336.6 787.2h0M343.4 769.1h0M369.5 772.6h0M335.1 761.2h0M327.8 805.1h0M378.6 793.1h0M329.1 769.6h0M337.1 761.8h0M349.9 762.2h0M346.6 751.9h0M347.2 780.5h0M345.8 751.9h0M327.8 762.3h0M373.3 776.1h0M331.7 747.7h0M334.0 786.8h0M346.2 773.9h0M339.0 794.5h0M345.0 767.0h0M337.8 767.5h0M341.4 780.3h0M358.2 768.0h0M342.8 774.6h0M346.8 768.1h0M339.0 752.1h0M352.2 788.2h0M328.1 771.4h0M382.1 760.7h0M441.5 782.4h0M415.2 756.6h0M410.9 775.0h0M420.4 761.2h0M418.3 746.8h0M429.0 786.5h0M438.8 776.8h0M435.0 792.2h0M429.6 776.0h0M431.9 756.0h0M426.9 801.2h0M439.7 763.3h0M421.2 768.0h0M420.3 766.6h0M406.0 771.9h0M435.9 773.5h0M404.5 771.6h0M438.1 784.9h0M414.8 758.0h0M452.4 757.1h0M423.0 767.3h0M429.7 774.0h0M445.1 751.6h0M435.0 774.9h0M412.3 776.3h0M435.6 767.8h0M431.4 774.6h0M427.9 769.0h0M431.6 788.2h0M435.2 758.3h0M403.2 749.2h0M409.7 797.4h0M425.0 749.9h0M452.6 781.2h0M409.6 760.1h0M443.9 753.0h0M428.0 780.6h0M436.3 754.5h0M442.2 789.5h0M430.8 754.5h0M403.2 770.3h0M409.6 761.2h0M425.3 755.3h0M399.3 780.0h0M437.6 768.0h0M418.9 781.6h0M411.4 759.9h0M425.5 755.7h0M428.8 763.6h0M437.9 774.6h0M446.5 758.8h0M409.7 758.8h0M411.7 801.5h0M425.6 777.4h0M404.3 768.5h0M421.0 758.1h0M435.0 763.7h0M408.5 762.1h0M414.3 765.1h0M424.1 763.4h0M405.0 799.0h0M429.8 755.2h0M420.0 785.5h0M416.7 804.0h0M423.5 793.2h0M416.3 763.9h0M413.5 771.6h0M407.8 756.4h0M413.3 794.6h0M411.1 804.8h0M422.6 774.1h0M421.6 773.5h0M439.6 774.0h0M451.2 788.2h0M406.1 781.5h0M405.7 746.5h0M439.7 765.2h0M425.5 753.9h0M439.7 776.8h0M416.8 768.9h0M422.5 769.5h0M428.8 764.5h0M413.1 746.4h0M407.7 780.5h0M412.8 759.8h0M420.2 761.9h0M434.1 753.2h0M444.3 780.9h0M441.0 763.5h0M408.1 755.7h0M441.5 774.5h0M449.2 793.3h0M409.0 772.2h0M428.7 743.7h0M435.3 766.5h0M411.2 782.7h0M421.2 767.7h0M419.3 765.7h0M401.7 758.3h0M428.3 804.8h0M415.0 756.8h0M416.2 768.7h0M416.5 765.7h0M431.4 799.8h0M407.5 757.8h0M437.5 774.0h0M407.8 769.4h0M411.3 776.7h0M411.0 752.7h0M420.3 757.3h0M406.1 767.2h0M397.0 758.7h0M444.5 792.5h0M445.5 750.3h0M430.3 779.2h0M439.5 767.5h0M403.8 798.3h0M413.7 743.2h0M412.4 768.5h0M422.0 772.0h0M435.7 754.4h0M405.1 762.8h0M398.8 777.5h0M449.3 788.0h0M426.6 764.1h0M453.7 756.9h0M433.9 759.7h0M427.1 775.9h0M437.7 767.3h0M420.1 779.5h0M420.2 771.6h0M447.4 795.0h0M407.2 745.4h0M402.4 784.5h0M410.6 777.3h0M427.6 770.4h0M422.6 775.7h0M424.0 766.2h0M405.9 758.1h0M407.1 767.9h0M406.6 772.2h0M423.1 768.0h0M409.1 780.4h0M428.7 774.1h0M414.6 771.8h0M418.1 764.6h0M419.3 782.1h0M422.0 776.9h0M426.0 787.7h0M410.8 767.1h0M405.0 779.6h0M426.5 763.9h0M404.3 793.6h0M433.8 771.2h0M438.6 760.1h0M401.0 776.2h0M413.9 778.8h0M430.5 784.2h0M437.2 758.0h0M411.9 780.3h0M405.8 752.3h0M413.9 767.9h0M440.0 760.7h0M435.5 749.4h0M409.0 782.2h0M409.8 769.8h0M424.8 772.9h0M420.8 765.8h0M410.3 804.7h0M444.5 765.1h0M411.0 786.2h0M421.1 799.0h0M441.1 790.5h0M413.6 775.9h0M403.0 767.6h0M440.8 761.3h0M412.7 785.0h0M415.5 759.7h0M410.2 761.0h0M445.1 786.1h0M429.2 768.4h0M402.2 781.8h0M410.0 795.1h0M427.1 777.4h0M449.8 772.2h0M446.4 775.9h0M422.6 750.2h0M401.4 767.2h0M424.4 768.3h0M448.6 781.3h0M425.2 772.2h0M419.8 791.9h0M408.2 760.1h0M430.5 782.8h0M432.7 780.7h0M417.8 755.5h0M428.7 786.9h0M444.4 741.4h0M405.3 781.7h0M417.4 792.5h0M417.2 762.0h0M420.5 768.7h0M411.2 758.7h0M403.1 790.6h0M441.4 747.3h0M406.0 772.6h0M415.5 776.3h0M405.2 778.7h0M441.5 766.6h0M438.2 757.0h0M403.0 750.2h0M452.6 778.1h0M414.9 756.0h0M431.5 792.0h0M435.9 780.6h0M421.8 767.1h0M418.3 799.4h0M440.9 769.3h0M418.4 777.6h0M400.9 782.4h0M405.9 754.4h0M425.8 770.9h0M434.4 786.7h0M434.3 754.7h0M434.1 791.5h0M400.7 795.5h0M436.6 786.3h0M433.3 765.9h0M421.4 770.7h0M424.3 790.3h0M411.0 759.3h0M430.7 762.2h0M430.4 741.1h0M425.4 758.5h0M427.8 747.9h0M437.3 780.3h0M410.8 800.8h0M434.5 747.9h0M406.2 768.1h0M412.2 759.7h0M407.0 766.9h0M419.3 763.2h0M417.9 793.8h0M416.9 778.1h0M438.5 751.8h0M427.5 751.1h0M420.2 781.2h0M420.0 741.7h0M427.2 779.7h0M402.0 772.8h0M412.6 762.0h0M400.9 756.3h0M420.5 781.8h0M422.3 772.7h0M445.5 781.3h0M416.2 769.8h0M413.1 773.6h0M420.7 764.3h0M440.8 766.5h0M411.8 757.7h0M430.2 770.4h0M404.2 749.7h0M443.3 757.6h0M423.5 767.8h0M430.3 771.9h0M415.7 763.9h0M415.4 744.3h0M414.0 765.1h0M452.3 750.3h0M401.7 740.8h0M446.2 777.0h0M411.7 758.5h0M423.0 780.2h0M428.2 779.2h0M418.5 793.5h0M422.5 769.3h0M415.5 757.7h0M416.0 770.5h0M412.2 785.9h0M421.3 776.1h0M405.2 784.8h0M436.2 744.5h0M411.2 763.1h0M418.7 776.0h0M419.0 780.7h0M426.2 770.0h0M424.6 790.3h0M406.5 757.4h0M419.3 757.0h0M444.3 774.0h0M452.2 789.3h0M412.8 756.6h0M413.8 781.6h0M426.7 776.8h0M412.7 784.9h0M405.8 785.7h0M411.6 757.6h0M436.6 777.1h0M409.5 777.6h0M404.4 769.8h0M413.8 763.8h0M405.3 781.3h0M434.9 787.4h0M423.2 787.2h0M423.4 767.0h0M407.3 781.1h0M400.0 778.0h0M423.1 762.0h0M440.0 762.4h0M429.4 754.7h0M423.6 784.1h0M419.6 771.2h0M413.3 768.4h0M406.1 783.1h0M417.6 761.3h0M442.9 786.7h0M408.1 771.9h0M431.8 751.7h0M412.5 787.6h0M430.7 775.6h0M418.9 762.9h0M417.0 757.3h0M423.8 754.6h0M430.2 791.4h0M413.1 791.1h0M418.2 760.1h0M403.4 767.2h0M411.4 784.6h0M416.0 773.1h0M430.9 779.9h0M422.9 737.9h0M434.3 762.2h0M419.0 740.0h0M399.5 786.9h0M447.6 786.0h0M402.5 767.4h0M444.2 770.1h0M401.8 756.3h0M434.7 768.8h0M431.3 759.0h0M403.6 772.3h0M421.8 764.4h0M434.5 767.3h0M443.9 743.4h0M405.8 764.9h0M413.6 794.8h0M450.6 788.7h0M424.1 756.3h0M442.2 788.7h0M433.2 775.2h0M427.8 768.0h0M435.9 761.8h0M428.3 795.6h0M413.2 775.1h0M428.6 761.7h0M404.9 786.2h0M427.8 771.5h0M424.7 781.1h0M434.1 767.9h0M430.2 766.7h0M405.0 765.1h0M406.9 789.5h0M400.1 777.7h0M414.7 773.6h0M437.9 761.6h0M403.6 770.2h0M420.1 772.0h0M428.4 760.9h0M416.1 775.5h0M425.0 783.0h0M419.8 784.6h0M423.4 749.4h0M425.6 779.2h0M417.4 776.4h0M423.5 754.4h0M416.6 786.2h0M449.3 764.9h0M431.2 757.9h0M419.4 789.5h0M402.3 767.3h0M402.0 757.0h0M411.4 784.9h0M413.9 789.1h0M400.1 785.0h0M398.9 774.9h0M428.4 746.3h0M437.6 797.6h0M412.7 772.7h0M403.2 744.6h0M439.6 789.5h0M408.5 791.4h0M417.8 786.4h0M418.2 755.1h0M428.7 765.1h0M434.7 746.9h0M422.2 784.1h0M430.3 751.1h0M447.7 785.9h0M404.4 757.9h0M399.2 788.8h0M407.0 784.1h0M422.1 781.3h0M404.9 767.7h0M428.7 787.9h0M414.3 787.9h0M434.8 767.3h0M404.6 771.7h0M434.9 779.4h0M406.2 767.9h0M449.3 781.5h0M404.9 776.8h0M434.9 777.9h0M414.9 749.8h0M409.1 746.3h0M440.0 768.5h0M416.0 767.0h0M429.5 777.1h0M424.9 762.3h0M420.4 799.5h0M426.3 745.3h0M427.3 784.4h0M403.1 767.9h0M399.0 785.1h0M439.5 783.9h0M434.2 748.9h0M436.2 761.8h0M447.3 773.4h0M405.4 779.2h0M401.9 767.0h0M409.0 760.8h0M429.4 796.4h0M407.9 767.3h0M412.1 792.1h0M402.7 766.7h0M414.8 768.1h0M423.4 756.7h0M440.0 779.8h0M406.8 786.0h0M400.1 780.3h0M424.4 768.5h0M485.2 749.7h0M492.5 767.1h0M485.1 766.6h0M477.4 757.9h0M476.5 777.3h0M489.4 777.3h0M489.2 767.9h0M497.6 761.4h0M490.7 765.7h0M503.6 787.0h0M485.5 773.3h0M491.9 740.9h0M492.9 789.3h0M477.0 786.3h0M499.0 784.7h0M473.9 783.0h0M510.0 778.2h0M502.8 786.5h0M471.9 785.6h0M480.4 771.3h0M505.0 779.0h0M484.8 775.0h0M476.7 748.3h0M476.2 794.9h0M485.5 781.3h0M479.3 763.5h0M479.2 767.2h0M506.5 756.9h0M491.3 768.7h0M467.7 802.4h0M491.0 804.2h0M474.7 767.3h0M517.8 767.4h0M487.1 757.9h0M483.1 768.2h0M468.4 788.4h0M512.2 771.0h0M472.9 759.5h0M498.3 786.4h0M520.2 791.8h0M493.4 761.6h0M487.4 771.0h0M481.7 764.9h0M486.6 738.8h0M485.9 743.6h0M476.5 786.5h0M498.8 781.6h0M512.4 761.4h0M478.0 750.7h0M477.2 788.4h0M482.2 801.8h0M499.4 778.9h0M497.2 760.5h0M480.1 761.9h0M489.8 768.3h0M481.2 778.0h0M509.5 767.6h0M493.0 773.8h0M514.3 762.6h0M495.7 797.7h0M487.8 776.8h0M476.9 761.5h0M478.1 786.4h0M519.1 772.0h0M500.9 772.0h0M481.1 776.7h0M505.1 777.9h0M476.6 782.3h0M500.7 771.4h0M497.0 764.8h0M494.5 786.4h0M485.3 753.6h0M511.3 760.8h0M510.9 763.7h0M468.1 777.6h0M502.2 784.9h0M485.9 765.0h0M475.1 770.8h0M491.0 787.4h0M489.9 769.1h0M499.7 750.3h0M477.4 764.5h0M505.8 763.0h0M484.1 777.0h0M486.2 752.5h0M469.0 799.4h0M488.3 752.0h0M498.5 781.2h0M473.9 764.4h0M475.9 770.0h0M478.7 761.5h0M495.3 748.1h0M487.2 776.7h0M495.9 768.9h0M492.8 757.9h0M513.9 767.4h0M472.9 766.3h0M496.5 762.5h0M495.3 764.7h0M518.9 762.4h0M491.0 761.4h0M496.3 778.6h0M498.7 763.6h0M474.3 772.8h0M472.5 752.1h0M480.7 810.8h0M517.4 752.8h0M512.0 775.1h0M478.0 774.2h0M483.1 787.7h0M487.5 763.5h0M486.0 755.2h0M513.6 778.0h0M513.2 786.6h0M500.8 777.3h0M492.4 747.8h0M499.3 789.6h0M496.3 780.8h0M505.6 769.2h0M474.3 766.5h0M474.6 741.3h0M483.2 781.6h0M495.9 776.5h0M520.8 774.6h0M472.5 758.0h0M509.4 780.9h0M474.7 780.4h0M497.7 777.2h0M474.7 779.1h0M498.8 765.1h0M473.9 789.8h0M498.1 782.1h0M486.0 776.5h0M510.4 803.5h0M496.5 761.7h0M480.2 765.4h0M482.9 781.8h0M475.9 766.7h0M476.0 773.0h0M512.4 770.1h0M482.0 783.1h0M486.1 747.9h0M504.5 772.3h0M484.4 793.8h0M470.9 774.2h0M475.9 802.9h0M499.5 757.5h0M500.0 788.1h0M483.1 763.0h0M483.0 771.7h0M490.8 773.4h0M477.5 758.7h0M486.1 779.4h0M497.4 786.2h0M502.1 766.2h0M484.4 776.9h0M472.8 769.0h0M486.0 754.5h0M470.3 780.1h0M494.9 769.6h0M506.1 764.3h0M484.4 768.1h0M507.6 779.4h0M472.6 776.6h0M484.3 765.1h0M499.0 777.8h0M480.7 774.7h0M506.7 767.8h0M475.1 752.7h0M496.9 779.8h0M514.7 753.3h0M480.8 764.6h0M468.5 769.0h0M509.4 763.8h0M494.8 781.5h0M494.9 745.7h0M470.9 755.9h0M484.3 762.4h0M518.5 799.4h0M501.7 783.1h0M489.1 774.1h0M468.5 771.9h0M475.2 779.6h0M469.8 753.6h0M495.5 810.7h0M472.5 771.6h0M477.6 755.4h0M498.6 774.8h0M470.9 775.4h0M502.7 753.3h0M481.7 767.2h0M501.4 775.5h0M494.2 755.9h0M477.7 767.0h0M479.9 777.1h0M476.4 760.9h0M486.6 767.9h0M473.1 762.1h0M477.8 766.6h0M470.6 758.8h0M491.3 762.9h0M489.7 752.4h0M483.5 783.8h0M471.5 744.9h0M476.8 762.9h0M496.1 782.2h0M498.6 781.7h0M497.0 764.1h0M475.5 749.7h0M497.9 785.8h0M498.8 775.6h0M477.9 790.5h0M474.9 777.9h0M501.2 786.1h0M489.0 790.3h0M486.4 800.6h0M517.1 771.3h0M497.9 770.4h0M499.3 768.4h0M495.5 767.3h0M504.2 757.3h0M467.7 750.1h0M493.9 775.9h0M502.7 784.6h0M488.2 763.1h0M471.9 779.3h0M506.6 792.6h0M479.0 797.9h0M469.1 792.3h0M499.6 786.9h0M503.9 746.8h0M473.5 770.0h0M486.2 772.0h0M480.8 774.5h0M480.0 758.9h0M469.9 787.1h0M493.8 772.7h0M517.9 763.8h0M486.9 787.4h0M481.9 778.2h0M513.3 788.2h0M502.0 782.4h0M488.7 768.7h0M472.4 759.5h0M511.8 759.0h0M488.5 756.5h0M487.6 749.0h0M492.8 778.0h0M485.3 783.3h0M480.9 763.0h0M491.3 771.9h0M508.4 740.8h0M518.4 785.9h0M487.1 738.3h0M494.9 804.6h0M490.7 775.9h0M486.4 766.9h0M476.1 758.1h0M492.2 778.2h0M525.5 753.7h0M503.2 775.2h0M513.7 768.9h0M485.8 765.2h0M501.7 800.9h0M476.3 787.7h0M507.9 783.4h0M498.9 791.7h0M487.0 758.5h0M502.0 759.7h0M472.9 776.8h0M507.3 763.0h0M487.6 763.9h0M472.3 784.1h0M492.4 773.8h0M497.2 792.8h0M519.1 775.2h0M485.6 751.6h0M520.0 758.3h0M482.5 763.8h0M496.4 777.9h0M494.3 760.6h0M482.7 774.4h0M477.9 760.3h0M500.6 759.3h0M495.7 780.8h0M468.7 785.8h0M482.8 779.2h0M471.6 773.4h0M478.5 783.9h0M477.1 777.5h0M505.9 784.1h0M476.3 776.0h0M479.5 768.5h0M486.2 777.6h0M500.6 790.6h0M480.4 756.7h0M486.6 759.6h0M479.0 789.4h0M474.1 782.4h0M481.3 792.3h0M497.8 762.7h0M498.1 748.2h0M510.5 781.8h0M490.5 764.9h0M479.9 800.0h0M484.6 778.1h0M507.0 777.1h0M506.7 762.4h0M498.3 781.9h0M476.1 809.6h0M486.5 785.6h0M474.7 763.4h0M490.5 797.1h0M481.7 770.1h0M488.0 746.8h0M497.4 766.4h0M491.5 760.9h0M481.8 780.4h0M507.3 762.7h0M505.0 780.6h0M482.1 774.4h0M475.4 770.7h0M497.8 767.7h0M509.7 775.6h0M481.7 778.2h0M487.5 780.1h0M479.5 763.6h0M478.5 758.6h0M471.8 772.6h0M509.8 765.9h0M471.0 759.8h0M478.0 767.0h0M479.1 749.3h0M491.1 774.9h0M484.5 756.7h0M467.3 792.9h0M498.3 764.3h0M471.3 760.4h0M491.9 754.9h0M476.6 763.7h0M489.5 777.0h0M492.9 785.3h0M500.3 762.7h0M514.4 762.3h0M506.7 794.7h0M475.4 775.7h0M475.9 772.4h0M500.2 772.2h0M473.3 785.7h0M468.0 796.6h0M497.9 782.9h0M492.5 780.6h0M479.2 775.5h0M520.9 787.6h0M481.0 766.2h0M488.0 770.5h0M519.7 751.1h0M482.2 772.7h0M489.8 759.0h0M493.4 773.7h0M505.7 762.0h0M484.2 756.6h0M500.1 768.0h0M508.6 765.1h0M502.5 757.8h0M480.6 783.1h0M469.9 774.8h0M477.1 747.9h0M509.1 763.0h0M472.0 759.5h0M488.0 792.8h0M491.0 758.7h0M498.7 779.8h0M506.2 785.3h0M477.6 795.8h0M490.6 769.3h0M483.9 785.8h0M518.9 786.3h0M487.6 772.0h0M473.4 759.0h0M488.9 768.9h0M503.8 760.6h0M490.5 767.6h0M482.4 786.7h0M509.1 756.5h0M502.2 771.0h0M479.0 749.3h0M504.6 763.0h0M482.7 767.7h0M478.5 761.9h0M470.2 782.9h0M476.1 782.5h0M484.6 785.6h0M481.6 777.6h0M501.9 781.9h0M494.1 757.0h0M493.0 797.6h0M502.0 780.0h0M492.3 764.2h0M490.9 772.6h0M497.2 774.9h0M486.0 783.2h0M475.1 761.4h0M479.4 770.5h0M504.2 749.7h0M498.2 791.1h0M501.0 772.0h0M489.1 785.9h0M494.4 768.6h0M478.7 783.6h0M481.2 780.3h0M493.8 785.1h0M510.9 777.5h0M476.3 763.2h0M501.2 767.5h0M469.3 785.0h0M485.6 782.9h0M508.2 771.4h0M484.7 778.8h0M472.7 783.9h0M499.4 796.9h0M501.5 750.1h0M510.5 764.3h0M507.0 767.3h0M497.2 761.3h0M480.9 766.2h0M517.6 768.2h0M518.6 764.7h0M492.7 763.6h0M483.5 780.2h0M482.7 772.7h0M499.6 751.1h0M517.4 750.5h0M499.8 754.4h0M474.4 770.2h0M489.9 788.2h0M490.6 744.4h0M501.7 790.5h0M481.7 754.4h0M481.1 801.6h0" stroke="#1e1e1e" stroke-width="2.45" stroke-linecap="round" fill="none"/>
<path d="M48.2,774.5 L50.3,774.4 L52.3,773.7 L54.4,772.6 L56.5,771.3 L58.6,770.2 L60.6,769.4 L62.7,769.1 L64.8,769.2 L66.9,769.7 L68.9,770.4 L71.0,771.3 L73.1,772.1 L75.2,772.8 L77.2,773.2 L79.3,773.2 L81.4,773.3 L83.4,773.4 L85.5,773.6 L87.6,773.9 L89.7,774.0 L91.7,774.2 L93.8,774.2 L95.9,774.2 L98.0,774.5 L100.0,775.2 L102.1,776.1 L104.2,777.0 L106.3,777.7 L108.3,778.2 L110.4,778.2 L110.4,784.2 L108.3,783.8 L106.3,782.9 L104.2,781.8 L102.1,780.5 L100.0,779.2 L98.0,778.1 L95.9,777.4 L93.8,777.2 L91.7,777.0 L89.7,776.8 L87.6,776.6 L85.5,776.3 L83.4,776.0 L81.4,775.7 L79.3,775.6 L77.2,775.6 L75.2,775.2 L73.1,774.5 L71.0,773.7 L68.9,772.8 L66.9,772.1 L64.8,771.6 L62.7,771.5 L60.6,772.2 L58.6,773.3 L56.5,774.9 L54.4,776.5 L52.3,777.9 L50.3,779.0 L48.2,779.5Z" fill="#bdbdbd" fill-opacity="0.6" stroke="none"/>
<path d="M48.2,777.0 L50.3,776.7 L52.3,775.8 L54.4,774.5 L56.5,773.1 L58.6,771.8 L60.6,770.8 L62.7,770.3 L64.8,770.4 L66.9,770.9 L68.9,771.6 L71.0,772.5 L73.1,773.3 L75.2,774.0 L77.2,774.4 L79.3,774.4 L81.4,774.5 L83.4,774.7 L85.5,774.9 L87.6,775.2 L89.7,775.4 L91.7,775.6 L93.8,775.7 L95.9,775.8 L98.0,776.3 L100.0,777.2 L102.1,778.3 L104.2,779.4 L106.3,780.3 L108.3,781.0 L110.4,781.2" fill="none" stroke="#3a6fe8" stroke-width="1.8"/>
<path d="M118.3,766.4 L120.3,767.1 L122.3,768.7 L124.4,770.7 L126.4,772.6 L128.4,774.0 L130.4,774.5 L132.5,774.5 L134.5,774.6 L136.5,774.7 L138.5,774.9 L140.6,775.1 L142.6,775.3 L144.6,775.4 L146.6,775.5 L148.7,775.5 L150.7,775.4 L152.7,775.3 L154.7,775.3 L156.7,775.4 L158.8,775.4 L160.8,775.4 L162.8,775.3 L164.8,775.1 L166.9,774.9 L168.9,774.8 L170.9,774.9 L172.9,775.0 L175.0,775.0 L177.0,775.0 L179.0,774.8 L179.0,784.8 L177.0,784.4 L175.0,783.9 L172.9,783.2 L170.9,782.5 L168.9,781.8 L166.9,781.3 L164.8,780.9 L162.8,780.6 L160.8,780.2 L158.8,779.9 L156.7,779.6 L154.7,779.2 L152.7,778.9 L150.7,778.7 L148.7,778.5 L146.6,778.4 L144.6,778.3 L142.6,778.1 L140.6,777.8 L138.5,777.6 L136.5,777.3 L134.5,777.1 L132.5,777.0 L130.4,776.9 L128.4,776.8 L126.4,775.8 L124.4,774.3 L122.3,772.8 L120.3,771.7 L118.3,771.4Z" fill="#bdbdbd" fill-opacity="0.6" stroke="none"/>
<path d="M118.3,768.9 L120.3,769.4 L122.3,770.7 L124.4,772.5 L126.4,774.2 L128.4,775.4 L130.4,775.7 L132.5,775.8 L134.5,775.9 L136.5,776.0 L138.5,776.2 L140.6,776.5 L142.6,776.7 L144.6,776.8 L146.6,777.0 L148.7,777.0 L150.7,777.0 L152.7,777.1 L154.7,777.3 L156.7,777.5 L158.8,777.7 L160.8,777.8 L162.8,778.0 L164.8,778.0 L166.9,778.1 L168.9,778.3 L170.9,778.7 L172.9,779.1 L175.0,779.5 L177.0,779.7 L179.0,779.8" fill="none" stroke="#3a6fe8" stroke-width="1.8"/>
<path d="M187.0,770.7 L189.1,770.8 L191.2,771.0 L193.2,771.3 L195.3,771.7 L197.4,772.1 L199.5,772.5 L201.6,772.9 L203.7,773.2 L205.8,773.4 L207.8,773.3 L209.9,773.1 L212.0,772.8 L214.1,772.5 L216.2,772.2 L218.2,771.8 L220.3,771.5 L222.4,771.2 L224.5,770.9 L226.6,770.7 L228.7,770.0 L230.8,769.1 L232.8,768.1 L234.9,766.9 L237.0,765.6 L239.1,764.3 L241.2,763.1 L243.2,761.9 L245.3,760.9 L247.4,760.0 L249.5,759.4 L249.5,777.4 L247.4,777.0 L245.3,776.8 L243.2,776.7 L241.2,776.8 L239.1,777.0 L237.0,777.3 L234.9,777.5 L232.8,777.6 L230.8,777.6 L228.7,777.4 L226.6,776.9 L224.5,776.7 L222.4,776.6 L220.3,776.6 L218.2,776.6 L216.2,776.6 L214.1,776.7 L212.0,776.6 L209.9,776.6 L207.8,776.5 L205.8,776.4 L203.7,776.2 L201.6,775.9 L199.5,775.5 L197.4,775.1 L195.3,774.7 L193.2,774.3 L191.2,774.0 L189.1,773.8 L187.0,773.7Z" fill="#bdbdbd" fill-opacity="0.6" stroke="none"/>
<path d="M187.0,772.2 L189.1,772.3 L191.2,772.5 L193.2,772.8 L195.3,773.2 L197.4,773.6 L199.5,774.0 L201.6,774.4 L203.7,774.7 L205.8,774.9 L207.8,774.9 L209.9,774.8 L212.0,774.7 L214.1,774.6 L216.2,774.4 L218.2,774.2 L220.3,774.1 L222.4,773.9 L224.5,773.8 L226.6,773.8 L228.7,773.7 L230.8,773.3 L232.8,772.8 L234.9,772.2 L237.0,771.4 L239.1,770.7 L241.2,770.0 L243.2,769.3 L245.3,768.8 L247.4,768.5 L249.5,768.4" fill="none" stroke="#3a6fe8" stroke-width="1.8"/>
<path d="M257.7,775.4 L259.7,774.8 L261.8,772.8 L263.8,770.7 L265.9,770.1 L267.9,770.1 L270.0,770.1 L272.0,770.3 L274.0,770.5 L276.1,770.8 L278.1,771.1 L280.2,771.4 L282.2,771.6 L284.3,771.8 L286.3,771.9 L288.4,771.9 L290.4,771.6 L292.4,771.4 L294.5,771.3 L296.5,771.2 L298.6,771.2 L300.6,771.1 L302.7,770.9 L304.7,770.6 L306.7,770.0 L308.8,769.5 L310.8,769.1 L312.9,768.8 L314.9,768.5 L317.0,768.0 L319.0,767.4 L319.0,789.4 L317.0,788.6 L314.9,787.6 L312.9,786.4 L310.8,785.3 L308.8,784.2 L306.7,783.2 L304.7,782.4 L302.7,781.9 L300.6,781.2 L298.6,780.4 L296.5,779.5 L294.5,778.7 L292.4,777.9 L290.4,777.2 L288.4,776.9 L286.3,776.7 L284.3,776.4 L282.2,776.1 L280.2,775.6 L278.1,775.2 L276.1,774.7 L274.0,774.2 L272.0,773.8 L270.0,773.5 L267.9,773.2 L265.9,773.1 L263.8,774.5 L261.8,777.3 L259.7,780.0 L257.7,781.4Z" fill="#bdbdbd" fill-opacity="0.6" stroke="none"/>
<path d="M257.7,778.4 L259.7,777.4 L261.8,775.0 L263.8,772.6 L265.9,771.6 L267.9,771.7 L270.0,771.8 L272.0,772.1 L274.0,772.4 L276.1,772.7 L278.1,773.1 L280.2,773.5 L282.2,773.8 L284.3,774.1 L286.3,774.3 L288.4,774.4 L290.4,774.4 L292.4,774.6 L294.5,775.0 L296.5,775.4 L298.6,775.8 L300.6,776.1 L302.7,776.4 L304.7,776.5 L306.7,776.6 L308.8,776.8 L310.8,777.2 L312.9,777.6 L314.9,778.0 L317.0,778.3 L319.0,778.4" fill="none" stroke="#3a6fe8" stroke-width="1.8"/>
<path d="M328.0,771.0 L330.0,771.5 L332.0,772.7 L334.1,773.6 L336.1,773.2 L338.1,771.3 L340.1,770.9 L342.2,770.9 L344.2,770.8 L346.2,770.7 L348.2,770.6 L350.3,770.5 L352.3,770.4 L354.3,770.3 L356.3,770.2 L358.3,770.1 L360.4,770.0 L362.4,769.5 L364.4,769.1 L366.4,768.9 L368.5,768.7 L370.5,768.5 L372.5,768.1 L374.5,767.5 L376.6,767.1 L378.6,767.5 L380.6,768.5 L382.6,769.7 L384.7,770.7 L386.7,771.1 L388.7,770.7 L388.7,798.7 L386.7,797.4 L384.7,795.4 L382.6,792.7 L380.6,789.9 L378.6,787.3 L376.6,785.2 L374.5,783.9 L372.5,783.0 L370.5,781.8 L368.5,780.4 L366.4,779.0 L364.4,777.7 L362.4,776.6 L360.4,776.0 L358.3,775.9 L356.3,775.8 L354.3,775.7 L352.3,775.6 L350.3,775.5 L348.2,775.4 L346.2,775.3 L344.2,775.2 L342.2,775.1 L340.1,775.1 L338.1,775.3 L336.1,777.2 L334.1,777.6 L332.0,776.7 L330.0,775.5 L328.0,775.0Z" fill="#bdbdbd" fill-opacity="0.6" stroke="none"/>
<path d="M328.0,773.0 L330.0,773.5 L332.0,774.7 L334.1,775.6 L336.1,775.2 L338.1,773.3 L340.1,773.0 L342.2,773.0 L344.2,773.0 L346.2,773.0 L348.2,773.0 L350.3,773.0 L352.3,773.0 L354.3,773.0 L356.3,773.0 L358.3,773.0 L360.4,773.0 L362.4,773.1 L364.4,773.4 L366.4,773.9 L368.5,774.6 L370.5,775.2 L372.5,775.6 L374.5,775.7 L376.6,776.2 L378.6,777.4 L380.6,779.2 L382.6,781.2 L384.7,783.0 L386.7,784.3 L388.7,784.7" fill="none" stroke="#3a6fe8" stroke-width="1.8"/>
<path d="M397.0,774.5 L399.1,774.5 L401.1,774.0 L403.1,773.3 L405.2,772.5 L407.2,772.0 L409.3,771.8 L411.4,771.8 L413.4,771.8 L415.4,771.7 L417.5,771.7 L419.6,771.7 L421.6,771.7 L423.6,771.6 L425.7,771.6 L427.8,771.6 L429.8,771.6 L431.9,771.5 L433.9,771.5 L435.9,771.3 L438.0,771.2 L440.1,771.1 L442.1,771.1 L444.1,771.1 L446.2,771.0 L448.2,770.7 L450.3,770.0 L452.4,768.9 L454.4,767.7 L456.4,766.6 L458.5,766.0 L458.5,776.0 L456.4,775.9 L454.4,776.1 L452.4,776.6 L450.3,776.9 L448.2,776.8 L446.2,776.6 L444.1,776.2 L442.1,775.8 L440.1,775.4 L438.0,775.1 L435.9,774.7 L433.9,774.5 L431.9,774.5 L429.8,774.4 L427.8,774.4 L425.7,774.4 L423.6,774.4 L421.6,774.3 L419.6,774.3 L417.5,774.3 L415.4,774.3 L413.4,774.2 L411.4,774.2 L409.3,774.3 L407.2,774.9 L405.2,775.9 L403.1,777.1 L401.1,778.2 L399.1,779.1 L397.0,779.5Z" fill="#bdbdbd" fill-opacity="0.6" stroke="none"/>
<path d="M397.0,777.0 L399.1,776.8 L401.1,776.1 L403.1,775.2 L405.2,774.2 L407.2,773.4 L409.3,773.0 L411.4,773.0 L413.4,773.0 L415.4,773.0 L417.5,773.0 L419.6,773.0 L421.6,773.0 L423.6,773.0 L425.7,773.0 L427.8,773.0 L429.8,773.0 L431.9,773.0 L433.9,773.0 L435.9,773.0 L438.0,773.1 L440.1,773.3 L442.1,773.5 L444.1,773.6 L446.2,773.8 L448.2,773.8 L450.3,773.5 L452.4,772.8 L454.4,771.9 L456.4,771.3 L458.5,771.0" fill="none" stroke="#3a6fe8" stroke-width="1.8"/>
<path d="M467.0,774.0 L469.0,773.8 L471.1,773.1 L473.1,772.0 L475.2,770.9 L477.2,770.2 L479.2,770.1 L481.3,770.3 L483.3,770.7 L485.4,771.3 L487.4,772.0 L489.4,772.5 L491.5,772.8 L493.5,772.8 L495.6,772.7 L497.6,772.6 L499.6,772.5 L501.7,772.5 L503.7,772.4 L505.8,772.3 L507.8,772.2 L509.8,772.0 L511.9,771.6 L513.9,771.1 L516.0,770.8 L518.0,770.4 L520.0,770.1 L522.1,769.7 L524.1,769.4 L526.2,768.9 L528.2,768.5 L528.2,784.5 L526.2,784.0 L524.1,783.4 L522.1,782.8 L520.0,782.1 L518.0,781.4 L516.0,780.7 L513.9,780.1 L511.9,779.5 L509.8,779.0 L507.8,778.7 L505.8,778.3 L503.7,777.9 L501.7,777.5 L499.6,777.1 L497.6,776.6 L495.6,776.3 L493.5,776.0 L491.5,775.8 L489.4,775.5 L487.4,775.0 L485.4,774.3 L483.3,773.7 L481.3,773.3 L479.2,773.1 L477.2,773.5 L475.2,774.6 L473.1,776.0 L471.1,777.4 L469.0,778.5 L467.0,779.0Z" fill="#bdbdbd" fill-opacity="0.6" stroke="none"/>
<path d="M467.0,776.5 L469.0,776.2 L471.1,775.2 L473.1,774.0 L475.2,772.7 L477.2,771.9 L479.2,771.6 L481.3,771.8 L483.3,772.2 L485.4,772.8 L487.4,773.5 L489.4,774.0 L491.5,774.3 L493.5,774.4 L495.6,774.5 L497.6,774.6 L499.6,774.8 L501.7,775.0 L503.7,775.2 L505.8,775.3 L507.8,775.5 L509.8,775.5 L511.9,775.5 L513.9,775.6 L516.0,775.7 L518.0,775.9 L520.0,776.1 L522.1,776.2 L524.1,776.4 L526.2,776.5 L528.2,776.5" fill="none" stroke="#3a6fe8" stroke-width="1.8"/>
<text x="111.60" y="739.30" font-size="5.8" text-anchor="end" fill="#ff3b3b" stroke="#ff3b3b" stroke-width="0.15" textLength="24.89" lengthAdjust="spacingAndGlyphs" >cor = -0.069</text>
<text x="111.60" y="744.60" font-size="5.8" text-anchor="end" fill="#ff3b3b" stroke="#ff3b3b" stroke-width="0.15" textLength="26.18" lengthAdjust="spacingAndGlyphs" >p = 1.27e-01</text>
<text x="181.40" y="739.30" font-size="5.8" text-anchor="end" fill="#ff3b3b" stroke="#ff3b3b" stroke-width="0.15" textLength="38.81" lengthAdjust="spacingAndGlyphs" >partial.cor = -0.276</text>
<text x="181.40" y="744.60" font-size="5.8" text-anchor="end" fill="#ff3b3b" stroke="#ff3b3b" stroke-width="0.15" textLength="26.18" lengthAdjust="spacingAndGlyphs" >p = 6.55e-10</text>
<text x="251.20" y="739.30" font-size="5.8" text-anchor="end" fill="#ff3b3b" stroke="#ff3b3b" stroke-width="0.15" textLength="36.23" lengthAdjust="spacingAndGlyphs" >partial.cor = -0.07</text>
<text x="251.20" y="744.60" font-size="5.8" text-anchor="end" fill="#ff3b3b" stroke="#ff3b3b" stroke-width="0.15" textLength="26.18" lengthAdjust="spacingAndGlyphs" >p = 1.21e-01</text>
<text x="321.00" y="739.30" font-size="5.8" text-anchor="end" fill="#ff3b3b" stroke="#ff3b3b" stroke-width="0.15" textLength="36.23" lengthAdjust="spacingAndGlyphs" >partial.cor = -0.07</text>
<text x="321.00" y="744.60" font-size="5.8" text-anchor="end" fill="#ff3b3b" stroke="#ff3b3b" stroke-width="0.15" textLength="26.18" lengthAdjust="spacingAndGlyphs" >p = 1.22e-01</text>
<text x="390.80" y="739.30" font-size="5.8" text-anchor="end" fill="#ff3b3b" stroke="#ff3b3b" stroke-width="0.15" textLength="38.81" lengthAdjust="spacingAndGlyphs" >partial.cor = -0.061</text>
<text x="390.80" y="744.60" font-size="5.8" text-anchor="end" fill="#ff3b3b" stroke="#ff3b3b" stroke-width="0.15" textLength="26.18" lengthAdjust="spacingAndGlyphs" >p = 1.82e-01</text>
<text x="460.60" y="739.30" font-size="5.8" text-anchor="end" fill="#ff3b3b" stroke="#ff3b3b" stroke-width="0.15" textLength="37.27" lengthAdjust="spacingAndGlyphs" >partial.cor = 0.025</text>
<text x="460.60" y="744.60" font-size="5.8" text-anchor="end" fill="#ff3b3b" stroke="#ff3b3b" stroke-width="0.15" textLength="26.18" lengthAdjust="spacingAndGlyphs" >p = 5.81e-01</text>
<text x="530.40" y="739.30" font-size="5.8" text-anchor="end" fill="#ff3b3b" stroke="#ff3b3b" stroke-width="0.15" textLength="38.81" lengthAdjust="spacingAndGlyphs" >partial.cor = -0.107</text>
<text x="530.40" y="744.60" font-size="5.8" text-anchor="end" fill="#ff3b3b" stroke="#ff3b3b" stroke-width="0.15" textLength="26.18" lengthAdjust="spacingAndGlyphs" >p = 1.82e-02</text>
</svg></body></html>
